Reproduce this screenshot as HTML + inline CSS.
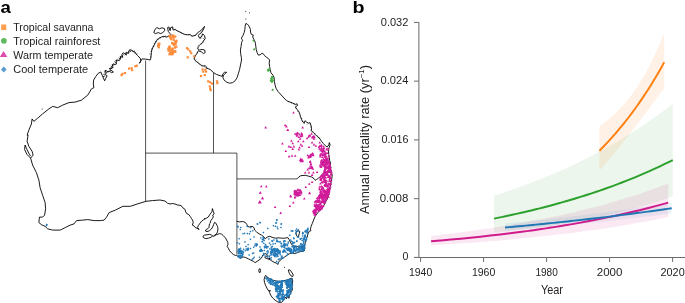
<!DOCTYPE html>
<html><head><meta charset="utf-8"><title>Figure</title>
<style>html,body{margin:0;padding:0;background:#fff}svg{display:block}</style></head>
<body>
<svg width="685" height="303" viewBox="0 0 685 303">
<rect width="685" height="303" fill="#fff"/>
<g>
<path d="M494.00 195.63 C495.24 195.23 498.97 194.05 501.45 193.24 C503.93 192.43 506.42 191.60 508.90 190.76 C511.38 189.92 513.87 189.06 516.35 188.19 C518.83 187.31 521.32 186.42 523.80 185.52 C526.28 184.61 528.77 183.68 531.25 182.74 C533.73 181.79 536.22 180.83 538.70 179.85 C541.18 178.87 543.67 177.87 546.15 176.85 C548.63 175.84 551.12 174.80 553.60 173.74 C556.08 172.68 558.57 171.60 561.05 170.50 C563.53 169.40 566.02 168.29 568.50 167.14 C570.98 166.00 573.47 164.84 575.95 163.65 C578.43 162.47 580.92 161.26 583.40 160.02 C585.88 158.79 588.37 157.54 590.85 156.26 C593.33 154.98 595.82 153.67 598.30 152.34 C600.78 151.01 603.27 149.66 605.75 148.27 C608.23 146.89 610.72 145.49 613.20 144.05 C615.68 142.61 618.17 141.15 620.65 139.66 C623.13 138.17 625.62 136.65 628.10 135.10 C630.58 133.55 633.07 131.97 635.55 130.36 C638.03 128.76 640.52 127.12 643.00 125.44 C645.48 123.77 647.97 122.07 650.45 120.33 C652.93 118.59 655.42 116.83 657.90 115.02 C660.38 113.22 662.87 111.38 665.35 109.50 C667.83 107.63 671.56 104.73 672.80 103.77 L672.80 196.29 C671.56 196.73 667.83 198.07 665.35 198.92 C662.87 199.77 660.38 200.60 657.90 201.40 C655.42 202.21 652.93 202.99 650.45 203.75 C647.97 204.51 645.48 205.25 643.00 205.97 C640.52 206.69 638.03 207.39 635.55 208.07 C633.07 208.75 630.58 209.42 628.10 210.06 C625.62 210.71 623.13 211.33 620.65 211.95 C618.17 212.56 615.68 213.15 613.20 213.73 C610.72 214.31 608.23 214.87 605.75 215.42 C603.27 215.97 600.78 216.50 598.30 217.02 C595.82 217.55 593.33 218.05 590.85 218.54 C588.37 219.04 585.88 219.52 583.40 219.99 C580.92 220.46 578.43 220.91 575.95 221.36 C573.47 221.80 570.98 222.23 568.50 222.66 C566.02 223.08 563.53 223.49 561.05 223.89 C558.57 224.29 556.08 224.68 553.60 225.06 C551.12 225.44 548.63 225.81 546.15 226.18 C543.67 226.54 541.18 226.89 538.70 227.24 C536.22 227.58 533.73 227.92 531.25 228.24 C528.77 228.57 526.28 228.89 523.80 229.20 C521.32 229.51 518.83 229.81 516.35 230.11 C513.87 230.41 511.38 230.70 508.90 230.98 C506.42 231.26 503.93 231.54 501.45 231.80 C498.97 232.07 495.24 232.46 494.00 232.59 Z" fill="#2ca02c" fill-opacity="0.09"/>
<path d="M599.40 126.42 C599.85 126.10 601.20 125.18 602.10 124.53 C603.00 123.88 603.90 123.21 604.80 122.51 C605.70 121.82 606.60 121.11 607.50 120.37 C608.40 119.64 609.30 118.88 610.20 118.10 C611.10 117.32 612.00 116.52 612.90 115.69 C613.80 114.86 614.70 114.01 615.60 113.13 C616.50 112.26 617.40 111.35 618.30 110.43 C619.20 109.50 620.10 108.55 621.00 107.56 C621.90 106.58 622.80 105.57 623.70 104.54 C624.60 103.50 625.50 102.43 626.40 101.34 C627.30 100.24 628.20 99.12 629.10 97.96 C630.00 96.80 630.90 95.62 631.80 94.39 C632.70 93.17 633.60 91.92 634.50 90.63 C635.40 89.34 636.30 88.02 637.20 86.66 C638.10 85.29 639.00 83.90 639.90 82.46 C640.80 81.03 641.70 79.56 642.60 78.04 C643.50 76.53 644.40 74.98 645.30 73.38 C646.20 71.78 647.10 70.14 648.00 68.46 C648.90 66.77 649.80 65.05 650.70 63.27 C651.60 61.49 652.50 59.67 653.40 57.80 C654.30 55.92 655.20 54.00 656.10 52.03 C657.00 50.05 657.90 48.02 658.80 45.94 C659.70 43.85 660.60 41.71 661.50 39.51 C662.40 37.31 663.75 33.86 664.20 32.73 L664.20 88.28 C663.75 88.88 662.40 90.65 661.50 91.84 C660.60 93.03 659.70 94.22 658.80 95.41 C657.90 96.61 657.00 97.80 656.10 99.00 C655.20 100.20 654.30 101.40 653.40 102.59 C652.50 103.79 651.60 104.99 650.70 106.19 C649.80 107.39 648.90 108.59 648.00 109.79 C647.10 110.99 646.20 112.19 645.30 113.38 C644.40 114.58 643.50 115.78 642.60 116.97 C641.70 118.16 640.80 119.36 639.90 120.54 C639.00 121.73 638.10 122.92 637.20 124.10 C636.30 125.29 635.40 126.47 634.50 127.64 C633.60 128.82 632.70 129.99 631.80 131.16 C630.90 132.33 630.00 133.49 629.10 134.65 C628.20 135.81 627.30 136.96 626.40 138.11 C625.50 139.26 624.60 140.40 623.70 141.54 C622.80 142.67 621.90 143.81 621.00 144.93 C620.10 146.06 619.20 147.17 618.30 148.29 C617.40 149.40 616.50 150.50 615.60 151.60 C614.70 152.70 613.80 153.79 612.90 154.87 C612.00 155.96 611.10 157.03 610.20 158.10 C609.30 159.17 608.40 160.23 607.50 161.28 C606.60 162.33 605.70 163.37 604.80 164.41 C603.90 165.44 603.00 166.47 602.10 167.49 C601.20 168.50 599.85 170.01 599.40 170.51 Z" fill="#ff7f0e" fill-opacity="0.11"/>
<path d="M431.10 235.85 C432.75 235.66 437.69 235.11 440.98 234.72 C444.27 234.34 447.57 233.94 450.86 233.54 C454.15 233.13 457.44 232.72 460.74 232.29 C464.03 231.86 467.32 231.43 470.62 230.97 C473.91 230.52 477.20 230.06 480.50 229.59 C483.79 229.12 487.08 228.63 490.38 228.13 C493.67 227.63 496.96 227.12 500.25 226.59 C503.55 226.07 506.84 225.53 510.13 224.97 C513.43 224.42 516.72 223.85 520.01 223.27 C523.31 222.69 526.60 222.09 529.89 221.47 C533.18 220.86 536.48 220.23 539.77 219.58 C543.06 218.94 546.36 218.27 549.65 217.59 C552.94 216.91 556.24 216.21 559.53 215.49 C562.82 214.78 566.12 214.04 569.41 213.28 C572.70 212.53 575.99 211.75 579.29 210.96 C582.58 210.16 585.87 209.34 589.17 208.51 C592.46 207.67 595.75 206.81 599.05 205.92 C602.34 205.04 605.63 204.14 608.93 203.20 C612.22 202.27 615.51 201.32 618.80 200.34 C622.10 199.36 625.39 198.36 628.68 197.33 C631.98 196.29 635.27 195.24 638.56 194.15 C641.86 193.06 645.15 191.95 648.44 190.80 C651.73 189.66 655.03 188.48 658.32 187.28 C661.61 186.07 666.55 184.19 668.20 183.57 L668.20 217.02 C666.55 217.36 661.61 218.38 658.32 219.04 C655.03 219.69 651.73 220.33 648.44 220.95 C645.15 221.57 641.86 222.18 638.56 222.77 C635.27 223.36 631.98 223.93 628.68 224.49 C625.39 225.05 622.10 225.60 618.80 226.13 C615.51 226.66 612.22 227.18 608.93 227.69 C605.63 228.19 602.34 228.69 599.05 229.17 C595.75 229.65 592.46 230.11 589.17 230.57 C585.87 231.03 582.58 231.47 579.29 231.90 C575.99 232.34 572.70 232.76 569.41 233.17 C566.12 233.58 562.82 233.98 559.53 234.37 C556.24 234.76 552.94 235.14 549.65 235.51 C546.36 235.88 543.06 236.24 539.77 236.59 C536.48 236.95 533.18 237.29 529.89 237.62 C526.60 237.96 523.31 238.28 520.01 238.60 C516.72 238.92 513.43 239.23 510.13 239.53 C506.84 239.83 503.55 240.12 500.25 240.41 C496.96 240.70 493.67 240.97 490.38 241.25 C487.08 241.52 483.79 241.78 480.50 242.04 C477.20 242.30 473.91 242.55 470.62 242.79 C467.32 243.04 464.03 243.28 460.74 243.51 C457.44 243.74 454.15 243.97 450.86 244.19 C447.57 244.41 444.27 244.63 440.98 244.84 C437.69 245.05 432.75 245.35 431.10 245.45 Z" fill="#d01c8b" fill-opacity="0.10"/>
<path d="M505.00 223.50 C506.16 223.39 509.63 223.05 511.95 222.82 C514.26 222.59 516.58 222.36 518.89 222.13 C521.21 221.90 523.52 221.66 525.84 221.42 C528.15 221.19 530.47 220.95 532.78 220.70 C535.10 220.46 537.41 220.22 539.73 219.97 C542.04 219.72 544.36 219.47 546.67 219.22 C548.99 218.97 551.31 218.71 553.62 218.45 C555.94 218.20 558.25 217.94 560.57 217.67 C562.88 217.41 565.20 217.14 567.51 216.88 C569.83 216.61 572.14 216.34 574.46 216.06 C576.77 215.79 579.09 215.51 581.40 215.23 C583.72 214.95 586.03 214.67 588.35 214.39 C590.67 214.10 592.98 213.82 595.30 213.53 C597.61 213.23 599.93 212.94 602.24 212.64 C604.56 212.35 606.87 212.05 609.19 211.75 C611.50 211.44 613.82 211.14 616.13 210.83 C618.45 210.52 620.76 210.21 623.08 209.89 C625.39 209.58 627.71 209.26 630.03 208.94 C632.34 208.62 634.66 208.29 636.97 207.97 C639.29 207.64 641.60 207.31 643.92 206.97 C646.23 206.64 648.55 206.30 650.86 205.96 C653.18 205.62 655.49 205.27 657.81 204.93 C660.12 204.58 662.44 204.23 664.75 203.87 C667.07 203.52 670.54 202.97 671.70 202.80 L671.70 213.20 C670.54 213.36 667.07 213.82 664.75 214.13 C662.44 214.43 660.12 214.73 657.81 215.03 C655.49 215.32 653.18 215.62 650.86 215.91 C648.55 216.20 646.23 216.49 643.92 216.77 C641.60 217.06 639.29 217.34 636.97 217.62 C634.66 217.90 632.34 218.17 630.03 218.45 C627.71 218.72 625.39 218.99 623.08 219.26 C620.76 219.52 618.45 219.79 616.13 220.05 C613.82 220.31 611.50 220.57 609.19 220.83 C606.87 221.08 604.56 221.34 602.24 221.59 C599.93 221.84 597.61 222.09 595.30 222.33 C592.98 222.58 590.67 222.82 588.35 223.06 C586.03 223.30 583.72 223.54 581.40 223.77 C579.09 224.01 576.77 224.24 574.46 224.47 C572.14 224.70 569.83 224.93 567.51 225.16 C565.20 225.38 562.88 225.61 560.57 225.83 C558.25 226.05 555.94 226.27 553.62 226.48 C551.31 226.70 548.99 226.91 546.67 227.12 C544.36 227.33 542.04 227.54 539.73 227.75 C537.41 227.96 535.10 228.16 532.78 228.37 C530.47 228.57 528.15 228.77 525.84 228.97 C523.52 229.17 521.21 229.36 518.89 229.56 C516.58 229.75 514.26 229.94 511.95 230.13 C509.63 230.32 506.16 230.61 505.00 230.70 Z" fill="#1f77b4" fill-opacity="0.08"/>
<path d="M599.40 150.73 C599.85 150.28 601.20 148.93 602.10 148.01 C603.00 147.10 603.90 146.17 604.80 145.23 C605.70 144.29 606.60 143.34 607.50 142.38 C608.40 141.41 609.30 140.44 610.20 139.45 C611.10 138.46 612.00 137.46 612.90 136.45 C613.80 135.43 614.70 134.41 615.60 133.37 C616.50 132.33 617.40 131.28 618.30 130.21 C619.20 129.14 620.10 128.07 621.00 126.97 C621.90 125.88 622.80 124.77 623.70 123.65 C624.60 122.53 625.50 121.40 626.40 120.25 C627.30 119.10 628.20 117.93 629.10 116.75 C630.00 115.57 630.90 114.38 631.80 113.17 C632.70 111.96 633.60 110.74 634.50 109.50 C635.40 108.26 636.30 107.00 637.20 105.73 C638.10 104.46 639.00 103.17 639.90 101.87 C640.80 100.56 641.70 99.24 642.60 97.91 C643.50 96.57 644.40 95.22 645.30 93.84 C646.20 92.47 647.10 91.08 648.00 89.68 C648.90 88.27 649.80 86.85 650.70 85.40 C651.60 83.96 652.50 82.50 653.40 81.02 C654.30 79.54 655.20 78.04 656.10 76.53 C657.00 75.01 657.90 73.47 658.80 71.92 C659.70 70.36 660.60 68.79 661.50 67.19 C662.40 65.60 663.75 63.15 664.20 62.34" fill="none" stroke="#ff7f0e" stroke-width="1.95"/>
<path d="M494.00 218.60 C495.24 218.35 498.97 217.61 501.45 217.09 C503.93 216.58 506.42 216.06 508.90 215.52 C511.38 214.99 513.87 214.44 516.35 213.89 C518.83 213.34 521.32 212.77 523.80 212.19 C526.28 211.62 528.77 211.03 531.25 210.43 C533.73 209.83 536.22 209.22 538.70 208.60 C541.18 207.98 543.67 207.34 546.15 206.70 C548.63 206.05 551.12 205.39 553.60 204.72 C556.08 204.04 558.57 203.36 561.05 202.66 C563.53 201.96 566.02 201.25 568.50 200.52 C570.98 199.80 573.47 199.06 575.95 198.30 C578.43 197.55 580.92 196.78 583.40 195.99 C585.88 195.21 588.37 194.41 590.85 193.59 C593.33 192.78 595.82 191.95 598.30 191.10 C600.78 190.25 603.27 189.39 605.75 188.51 C608.23 187.62 610.72 186.73 613.20 185.81 C615.68 184.90 618.17 183.96 620.65 183.01 C623.13 182.06 625.62 181.09 628.10 180.10 C630.58 179.11 633.07 178.10 635.55 177.08 C638.03 176.05 640.52 175.00 643.00 173.93 C645.48 172.86 647.97 171.77 650.45 170.66 C652.93 169.55 655.42 168.42 657.90 167.27 C660.38 166.11 662.87 164.94 665.35 163.74 C667.83 162.54 671.56 160.68 672.80 160.07" fill="none" stroke="#2ca02c" stroke-width="1.95"/>
<path d="M431.10 241.30 C432.75 241.16 437.69 240.75 440.98 240.47 C444.27 240.18 447.57 239.89 450.86 239.59 C454.15 239.29 457.44 238.98 460.74 238.66 C464.03 238.35 467.32 238.02 470.62 237.69 C473.91 237.35 477.20 237.01 480.50 236.66 C483.79 236.31 487.08 235.95 490.38 235.58 C493.67 235.21 496.96 234.83 500.25 234.44 C503.55 234.05 506.84 233.66 510.13 233.25 C513.43 232.84 516.72 232.42 520.01 231.98 C523.31 231.55 526.60 231.11 529.89 230.66 C533.18 230.20 536.48 229.73 539.77 229.26 C543.06 228.78 546.36 228.29 549.65 227.78 C552.94 227.28 556.24 226.76 559.53 226.23 C562.82 225.70 566.12 225.15 569.41 224.60 C572.70 224.04 575.99 223.46 579.29 222.87 C582.58 222.29 585.87 221.68 589.17 221.06 C592.46 220.44 595.75 219.81 599.05 219.15 C602.34 218.50 605.63 217.83 608.93 217.14 C612.22 216.45 615.51 215.75 618.80 215.02 C622.10 214.30 625.39 213.56 628.68 212.79 C631.98 212.03 635.27 211.25 638.56 210.45 C641.86 209.64 645.15 208.82 648.44 207.97 C651.73 207.13 655.03 206.26 658.32 205.37 C661.61 204.48 666.55 203.08 668.20 202.63" fill="none" stroke="#d01c8b" stroke-width="1.95"/>
<path d="M505.00 227.55 C506.16 227.45 509.63 227.13 511.95 226.92 C514.26 226.71 516.58 226.50 518.89 226.28 C521.21 226.07 523.52 225.85 525.84 225.63 C528.15 225.41 530.47 225.19 532.78 224.96 C535.10 224.74 537.41 224.51 539.73 224.28 C542.04 224.05 544.36 223.82 546.67 223.59 C548.99 223.35 551.31 223.12 553.62 222.88 C555.94 222.64 558.25 222.40 560.57 222.15 C562.88 221.91 565.20 221.66 567.51 221.41 C569.83 221.16 572.14 220.91 574.46 220.65 C576.77 220.40 579.09 220.14 581.40 219.88 C583.72 219.62 586.03 219.36 588.35 219.09 C590.67 218.83 592.98 218.56 595.30 218.29 C597.61 218.01 599.93 217.74 602.24 217.46 C604.56 217.19 606.87 216.91 609.19 216.62 C611.50 216.34 613.82 216.05 616.13 215.76 C618.45 215.47 620.76 215.18 623.08 214.89 C625.39 214.59 627.71 214.29 630.03 213.99 C632.34 213.69 634.66 213.38 636.97 213.08 C639.29 212.77 641.60 212.46 643.92 212.14 C646.23 211.83 648.55 211.51 650.86 211.19 C653.18 210.87 655.49 210.54 657.81 210.22 C660.12 209.89 662.44 209.56 664.75 209.22 C667.07 208.89 670.54 208.37 671.70 208.20" fill="none" stroke="#1f77b4" stroke-width="1.95"/>
</g>
<g stroke="#6a6a6a" stroke-width="1" fill="none">
<path d="M418.9 22.3 V258"/>
<path d="M418.4 257.5 H685"/>
<path d="M414 257.40 H418.9"/>
<path d="M414 198.65 H418.9"/>
<path d="M414 139.90 H418.9"/>
<path d="M414 81.15 H418.9"/>
<path d="M414 22.40 H418.9"/>
<path d="M420.60 257.5 V261.9"/>
<path d="M483.60 257.5 V261.9"/>
<path d="M546.60 257.5 V261.9"/>
<path d="M609.60 257.5 V261.9"/>
<path d="M672.60 257.5 V261.9"/>
</g>
<g font-family="'Liberation Sans', sans-serif" font-size="10.8" fill="#222">
<text x="402.50" y="259.95" textLength="5.9" lengthAdjust="spacingAndGlyphs">0</text>
<text x="379.70" y="201.80" textLength="28.7" lengthAdjust="spacingAndGlyphs">0.008</text>
<text x="381.40" y="143.05" textLength="27.0" lengthAdjust="spacingAndGlyphs">0.016</text>
<text x="380.60" y="84.30" textLength="27.8" lengthAdjust="spacingAndGlyphs">0.024</text>
<text x="380.80" y="25.55" textLength="27.6" lengthAdjust="spacingAndGlyphs">0.032</text>
<text x="409.00" y="275.7" textLength="23.2" lengthAdjust="spacingAndGlyphs">1940</text>
<text x="471.90" y="275.7" textLength="23.4" lengthAdjust="spacingAndGlyphs">1960</text>
<text x="535.40" y="275.7" textLength="22.4" lengthAdjust="spacingAndGlyphs">1980</text>
<text x="596.80" y="275.7" textLength="25.6" lengthAdjust="spacingAndGlyphs">2000</text>
<text x="660.50" y="275.7" textLength="24.2" lengthAdjust="spacingAndGlyphs">2020</text>
<text x="540.9" y="293.8" font-size="12.5" textLength="22" lengthAdjust="spacingAndGlyphs">Year</text>
<text transform="translate(368.9 214) rotate(-90)" font-size="12.5" textLength="149" lengthAdjust="spacingAndGlyphs">Annual mortality rate (yr<tspan font-size="7.8" dy="-4.8">−1</tspan><tspan dy="4.8">)</tspan></text>
</g>
<g font-family="'Liberation Sans', sans-serif" font-weight="bold" fill="#000">
<text transform="translate(0.4 12.55) scale(1.08 1)" font-size="17.2">a</text>
<text transform="translate(352.6 12.5) scale(1.2 1)" font-size="16.4">b</text>
</g>
<g font-family="'Liberation Sans', sans-serif" font-size="10.9" fill="#222">
<text x="13.3" y="30.60" textLength="80.2" lengthAdjust="spacingAndGlyphs">Tropical savanna</text>
<text x="13.3" y="44.67" textLength="87.1" lengthAdjust="spacingAndGlyphs">Tropical rainforest</text>
<text x="13.3" y="58.74" textLength="79.6" lengthAdjust="spacingAndGlyphs">Warm temperate</text>
<text x="13.3" y="72.81" textLength="74.8" lengthAdjust="spacingAndGlyphs">Cool temperate</text>
</g>
<rect x="1.2" y="24.5" width="5" height="5.6" fill="#fd9d4d"/>
<circle cx="3.9" cy="40.8" r="2.85" fill="#5fba5f"/>
<path d="M3.6 50.9 L7.3 57 L-0.1 57 Z" fill="#de4bb0"/>
<path d="M3.8 66.4 L6.6 69.4 L3.8 72.4 L1 69.4 Z" fill="#5a9bd1"/>
<g fill="none" stroke="#000" stroke-width="0.9" stroke-linejoin="round">
<path d="M28.1 135.0 L27.1 141.3 L28.8 146.3 L32.1 151.3 L33.1 155.1 L30.6 158.1 L32.6 165.1 L36.4 172.6 L38.9 180.2 L40.1 187.7 L42.6 195.2 L45.1 202.5 L45.6 208.8 L44.6 215.1 L42.6 217.1 L39.4 217.1 L38.9 222.6 L41.4 224.6 L45.1 226.4 L47.7 228.9 L52.7 230.1 L60.2 230.1 L65.2 227.6 L70.2 225.1 L74.0 223.9 L76.5 220.6 L82.8 220.1 L87.8 219.6 L94.1 220.6 L100.3 220.6 L104.1 220.1 L106.6 217.1 L109.1 212.6 L115.4 210.1 L122.9 206.3 L130.4 206.3 L137.9 203.8 L146.0 201.3 L152.4 200.6 L160.0 200.0 L165.0 201.0 L167.5 203.2 L170.0 204.0 L172.5 203.5 L175.0 204.0 L177.5 205.0 L180.0 205.3 L181.9 206.3 L183.2 208.2 L185.1 209.4 L185.7 211.9 L186.9 213.8 L188.8 214.5 L190.1 216.3 L191.3 218.2 L192.6 220.1 L193.2 222.6 L192.3 225.1 L193.9 225.8 L195.1 227.4 L197.0 228.3 L199.1 229.5 L197.6 227.4 L198.2 225.8 L199.5 223.9 L201.4 221.4 L203.9 219.5 L206.4 218.2 L208.3 217.0 L209.5 215.1 L210.8 213.2 L212.1 211.3 L212.4 208.6 L213.3 211.3 L214.2 213.8 L212.7 215.1 L213.3 217.0 L212.1 218.9 L210.8 220.7 L210.2 223.2 L209.5 223.8 L208.9 227.5 L207.7 228.8 L206.2 229.4 L205.4 231.0 L207.0 231.6 L209.5 230.7 L211.4 229.0 L212.7 226.9 L213.7 224.4 L214.6 222.3 L215.8 223.1 L217.5 226.3 L218.0 229.0 L217.5 231.9 L216.5 233.8 L214.6 235.3 L213.3 236.3 L214.6 235.7 L217.1 234.4 L219.6 233.6 L221.5 234.1 L223.4 235.7 L225.2 237.6 L226.7 240.1 L227.8 242.6 L228.0 244.5 L227.1 246.4 L228.4 248.2 L229.6 250.8 L231.5 252.9 L233.4 254.5 L235.3 255.4 L236.5 255.5 L238.3 256.9 L240.8 258.2 L243.3 256.9 L245.8 257.6 L248.3 258.8 L250.8 260.1 L253.3 261.3 L255.2 262.6 L257.1 261.3 L259.0 260.1 L260.9 258.6 L262.1 256.9 L262.8 255.1 L264.9 253.6 L266.5 254.1 L267.8 255.7 L265.9 256.3 L264.9 257.8 L267.2 258.6 L269.7 259.5 L271.5 260.7 L274.1 262.3 L276.6 263.2 L277.8 264.5 L278.7 262.0 L280.3 260.1 L282.2 258.6 L284.7 256.9 L287.2 255.1 L289.8 253.6 L292.3 253.2 L294.8 253.6 L297.3 252.6 L300.4 251.6 L302.9 251.0 L304.6 250.0 L303.6 251.4 L304.8 248.9 L304.6 246.4 L305.1 243.2 L306.1 240.1 L307.1 237.0 L308.0 233.8 L309.2 231.3 L310.8 230.7 L310.5 228.8 L311.1 226.3 L312.4 223.2 L313.6 220.0 L314.9 216.9 L315.9 215.1 L318.4 212.0 L321.5 208.8 L324.1 205.1 L326.6 200.0 L327.8 197.7 L328.8 193.9 L329.7 190.1 L330.3 186.4 L331.0 182.6 L331.8 178.8 L332.2 175.1 L331.3 171.9 L330.3 168.8 L331.0 167.7 L330.1 165.2 L330.6 162.6 L329.7 160.8 L329.3 157.6 L328.8 154.5 L328.4 150.7 L329.1 147.6 L330.1 144.8 L329.3 142.6 L328.8 145.1 L327.2 146.9 L325.3 145.7 L323.4 143.6 L321.5 141.3 L320.0 139.0 L319.0 137.7 L317.1 136.4 L315.3 134.5 L313.4 132.4 L311.2 130.8 L311.5 128.2 L310.9 125.1 L310.0 122.6 L308.4 123.2 L306.5 122.0 L305.0 120.7 L304.2 123.2 L302.7 122.0 L301.5 119.5 L300.4 116.3 L299.6 113.2 L298.3 110.7 L296.4 108.8 L295.4 106.9 L297.4 105.6 L297.1 103.8 L295.2 104.4 L292.7 103.1 L289.5 101.9 L286.4 100.6 L277.9 91.4 L276.0 88.2 L275.1 85.1 L274.4 81.3 L274.1 77.6 L272.9 75.1 L270.9 72.7 L270.2 69.5 L269.6 66.4 L269.2 63.2 L269.6 60.1 L268.4 58.6 L266.5 57.3 L264.6 55.7 L263.3 53.8 L262.1 53.2 L260.2 54.8 L258.3 55.1 L257.1 52.6 L256.2 49.4 L255.8 46.3 L255.4 43.2 L255.2 42.0 L253.9 39.5 L252.7 37.0 L253.3 35.1 L251.4 34.5 L250.5 32.0 L250.4 29.5 L249.5 27.0 L248.3 25.1 L247.0 23.8 L245.8 23.6 L245.1 26.3 L244.9 29.5 L244.1 32.6 L243.2 35.1 L242.0 37.0 L241.4 38.9 L242.9 40.2 L241.6 42.0 L241.6 42.5 L241.1 46.3 L240.4 50.1 L240.7 53.8 L241.4 57.6 L241.5 60.0 L240.5 65.0 L239.6 69.4 L238.3 73.8 L237.1 77.6 L235.2 80.7 L232.7 82.6 L229.5 83.2 L226.4 82.0 L223.9 79.8 L222.9 77.6 L223.6 75.1 L225.2 73.6 L226.7 72.3 L224.5 72.3 L222.9 73.8 L222.4 76.3 L220.1 75.7 L216.4 74.4 L213.5 72.6 L210.1 69.4 L205.9 67.9 L206.7 67.0 L205.2 65.7 L202.7 66.1 L200.2 64.5 L197.7 62.6 L195.2 60.7 L194.2 58.2 L195.4 55.7 L197.1 53.2 L198.3 50.7 L199.6 51.3 L201.5 51.9 L203.4 53.6 L205.2 52.6 L204.6 50.0 L202.1 49.4 L199.6 50.0 L197.7 48.8 L198.3 46.3 L200.2 44.4 L202.7 42.5 L204.0 40.0 L205.2 38.9 L204.6 35.7 L202.7 33.8 L201.5 37.0 L199.6 38.2 L198.3 35.7 L199.6 33.8 L201.5 32.6 L202.7 30.7 L204.0 28.2 L204.6 26.3 L203.4 27.6 L201.5 30.1 L199.6 31.3 L197.7 32.6 L195.8 35.1 L193.9 35.7 L192.1 36.3 L190.2 34.5 L187.7 34.8 L184.5 34.5 L182.0 33.2 L179.5 31.9 L177.0 30.7 L175.1 29.4 L173.2 30.1 L172.6 26.9 L170.7 27.6 L170.1 30.7 L168.8 26.9 L167.6 27.6 L168.2 31.3 L170.1 33.8 L171.3 35.1 L168.8 36.3 L166.3 37.0 L163.8 36.3 L161.3 37.0 L159.4 38.2 L157.5 39.5 L155.6 42.0 L154.4 44.5 L153.1 47.0 L151.9 49.5 L151.3 52.7 L150.8 58.2 L150.2 60.1 L148.3 59.5 L145.2 59.1 L142.1 58.9 L139.5 63.3 L140.8 60.8 L140.2 58.2 L137.7 55.7 L135.2 52.6 L132.6 50.7 L132.2 50.6 L130.7 49.7 L129.0 50.4 L128.7 53.3 L125.9 52.6 L126.4 55.1 L123.2 52.7 L122.0 54.4 L122.8 57.3 L120.5 56.4 L120.4 59.0 L119.4 60.5 L116.1 60.0 L116.4 64.1 L114.1 64.7 L112.2 64.8 L113.1 67.5 L109.2 68.6 L110.8 70.1 L113.4 72.0 L111.5 72.6 L109.6 71.3 L107.7 72.0 L105.8 70.1 L104.6 71.3 L106.5 72.6 L105.2 74.5 L107.1 75.7 L105.8 78.2 L104.6 80.8 L102.7 76.4 L100.8 72.0 L98.3 73.2 L95.8 76.4 L93.6 80.1 L93.3 83.9 L93.9 87.7 L91.5 88.8 L87.8 95.1 L81.5 100.1 L75.2 102.1 L69.0 102.6 L62.7 105.1 L57.7 107.7 L52.7 106.4 L48.9 108.9 L42.6 113.9 L37.6 118.2 L33.9 121.4 L32.1 118.9 L31.4 124.0 L28.8 130.2 L27.1 135.2Z"/>
<path d="M30.6 158.1 L27.1 154.6 L24.6 149.6 L25.1 145.0 L26.6 148.8 L29.1 153.8 L30.6 156.1"/>
<path stroke-width="0.75" d="M137.1 53.7L136.2 54.7M136.1 52.2L134.7 53.4M133.1 52.0L135.0 50.8M132.4 51.7L132.2 50.4M130.6 52.0L130.1 50.3M128.8 51.3L128.5 52.7M126.8 51.9L127.0 53.6M124.8 53.5L125.9 54.0M124.1 55.3L123.5 54.4M123.0 56.6L121.4 55.4M121.6 57.8L119.8 56.4M119.1 57.6L119.7 59.4M117.7 59.4L118.5 60.2M117.3 61.3L115.9 60.8M115.9 63.1L114.5 61.5M114.3 64.1L113.3 63.1M112.3 64.3L113.0 66.0M111.0 65.8L112.1 67.6M110.1 68.1L112.3 68.8M110.5 69.6L110.9 71.0M109.3 72.0L108.9 70.6M106.9 72.2L108.1 71.3M105.9 72.4L105.4 70.2M105.4 72.8L104.2 73.0M103.3 74.2L105.1 75.3M104.6 76.5L102.5 76.6"/>
<path stroke-width="0.6" d="M170.2 28.4L169.9 27.9M172.5 28.6L172.7 27.7M175.2 29.2L174.2 29.8M177.0 30.4L176.8 30.9M179.2 31.4L179.1 32.2M180.9 32.9L181.9 32.8M183.5 34.0L184.1 33.4M186.3 34.7L186.0 34.1M188.6 34.9L188.5 35.3M190.8 35.3L191.1 36.3M193.0 35.4L193.8 36.2M195.4 35.6L196.1 34.6M198.0 33.9L197.7 33.5"/>
<path stroke-width="0.6" d="M168.6 36.0L168.6 35.2M165.4 35.8L166.3 36.7M162.6 36.8L163.8 37.1M160.5 37.8L160.7 38.4M158.0 38.8L158.2 39.8M156.7 41.4L155.9 41.3M154.6 43.4L155.2 44.1M152.9 46.5L154.3 46.0M152.1 48.5L152.5 48.9M152.1 51.5L151.2 51.3M150.9 53.9L151.9 54.4M150.7 57.0L151.4 56.9M150.7 57.0L150.0 56.7M150.0 54.3L149.4 54.0M151.0 51.6L150.6 51.6M151.7 48.4L152.2 49.7M153.4 46.3L152.7 46.7M154.7 44.2L153.8 43.7M155.4 41.3L156.2 42.0M157.3 39.8L157.3 38.7M159.8 37.5L159.1 37.4"/>
<path stroke-width="0.6" d="M203.0 28.6L203.8 29.0M201.7 31.6L202.6 31.1M201.3 34.2L200.7 33.5M200.4 36.3L199.8 36.8M200.2 37.9L201.0 38.9M203.7 39.0L203.1 38.2M205.1 39.7L204.2 39.5M202.9 41.3L203.1 42.5M201.0 44.0L201.7 44.2M199.5 46.3L199.1 45.7"/>
<path stroke-width="0.6" d="M196.9 52.8L197.1 53.5M195.1 55.9L196.2 55.3M194.7 57.9L193.8 58.2M195.7 60.4L196.4 59.7M197.5 62.0L198.5 62.1M199.4 64.0L200.4 64.2M202.8 65.3L201.7 65.9M205.3 66.9L204.1 66.9M207.4 67.8L207.0 68.6"/>
<path stroke-width="0.6" d="M289.5 101.7L288.4 101.8M291.8 103.4L291.3 102.2M294.0 104.4L294.2 103.4M295.8 106.0L295.4 106.0M295.9 108.3L296.9 109.0M298.1 111.3L297.2 111.0M299.2 113.5L298.8 113.7M300.5 115.7L300.1 116.5M301.0 118.2L302.4 118.8M303.4 121.3L302.6 120.7M304.2 123.4L304.8 123.1M307.0 124.4L307.4 123.7M309.8 125.0L310.0 124.6M310.9 127.3L311.2 126.4M311.8 129.3L310.9 130.0M313.0 131.5L312.4 132.3M315.4 133.7L314.1 133.9M316.5 136.0L317.2 135.3M318.7 137.0L319.1 138.2"/>
<path d="M153.8 32.6 L155.0 29.4 L156.9 27.6 L159.4 28.8 L161.9 27.8 L164.4 28.6 L164.8 30.7 L162.6 32.6 L160.7 33.6 L158.2 32.6 L155.6 33.6Z"/>
<path d="M202.9 236.3 L204.5 235.1 L207.0 234.8 L209.5 234.4 L211.4 234.8 L212.7 236.1 L210.8 237.3 L208.3 238.2 L205.8 238.6 L203.6 237.8Z"/>
<path d="M265.7 275.3 L264.8 276.9 L264.1 279.4 L264.5 282.6 L265.7 285.7 L267.3 288.9 L269.1 291.4 L270.1 290.1 L269.6 292.6 L270.7 295.1 L272.6 297.9 L275.1 300.2 L277.9 302.0 L280.8 302.7 L282.7 301.4 L283.9 298.9 L285.4 297.0 L286.4 298.9 L287.7 296.4 L288.9 298.3 L289.6 295.1 L290.4 293.2 L289.9 290.7 L291.7 291.4 L292.5 288.9 L291.7 286.3 L292.5 283.2 L292.7 280.1 L292.1 278.2 L290.2 278.6 L287.7 279.8 L283.9 280.7 L280.2 281.3 L276.4 281.1 L272.6 280.1 L269.5 278.6 L267.0 276.9Z"/>
<path d="M259.1 269.0 L260.1 268.8 L260.6 270.6 L260.1 272.5 L259.1 272.3 L258.8 270.6Z"/>
<path d="M288.3 270.0 L289.9 269.8 L291.5 271.9 L293.3 275.0 L292.7 276.6 L290.8 275.7 L289.2 273.2Z"/>
<circle cx="245.8" cy="11.3" r="0.5" fill="#000" stroke="none"/>
<circle cx="249.5" cy="12.8" r="0.5" fill="#000" stroke="none"/>
<circle cx="245.8" cy="19.1" r="0.5" fill="#000" stroke="none"/>
<circle cx="42.1" cy="108.9" r="0.5" fill="#000" stroke="none"/>
<circle cx="204.6" cy="218.5" r="0.5" fill="#000" stroke="none"/>
<circle cx="284.5" cy="267.3" r="0.5" fill="#000" stroke="none"/>
<circle cx="269.4" cy="258.5" r="1" fill="#000" stroke="none"/>
<path stroke-width="0.75" stroke="#1a1a1a" d="M145.6 60.5 L145.6 201.3"/>
<path stroke-width="0.75" stroke="#1a1a1a" d="M213.5 72.8 L213.5 153.1"/>
<path stroke-width="0.75" stroke="#1a1a1a" d="M145.6 153.1 L236.9 153.1"/>
<path stroke-width="0.75" stroke="#1a1a1a" d="M236.9 153.1 L236.9 254.8"/>
<path stroke-width="0.75" stroke="#1a1a1a" d="M236.9 178.9 L297.1 178.9"/>
<path d="M297.1 178.8 L298.9 176.9 L300.8 175.7 L305.2 175.3 L308.4 176.1 L311.5 176.9 L314.0 178.6 L315.3 180.3 L316.5 179.5 L318.4 178.2 L320.3 176.9 L322.2 174.4 L324.1 173.2 L327.2 172.6 L331.0 171.9"/>
<path d="M236.8 221.3 L239.5 221.9 L242.7 221.5 L245.2 222.3 L246.8 224.4 L247.7 226.6 L249.6 226.9 L252.1 226.3 L254.0 227.6 L254.6 230.1 L256.5 231.9 L259.0 233.8 L261.5 235.1 L264.0 237.0 L265.3 238.9 L267.2 237.0 L269.7 236.3 L272.2 237.3 L275.3 238.2 L278.5 237.8 L281.6 238.2 L284.7 238.2 L287.9 237.6 L289.1 239.5 L290.4 242.0 L291.6 244.5 L293.5 245.8 L296.0 246.4 L299.2 247.0 L302.3 247.4 L304.2 248.3"/>
<path d="M296.0 231.9 L297.9 230.7 L299.8 231.3 L299.2 233.8 L298.3 237.0 L297.0 236.3 L296.0 233.8 L296.0 231.9"/>
</g>
<g fill="#fd8d3c"><rect x="120.4" y="74.0" width="2.2" height="2.2"/><rect x="121.4" y="72.8" width="2.2" height="2.2"/><rect x="123.9" y="71.9" width="2.2" height="2.2"/><rect x="128.0" y="67.5" width="2.2" height="2.2"/><rect x="130.5" y="67.1" width="2.2" height="2.2"/><rect x="131.1" y="69.0" width="2.2" height="2.2"/><rect x="134.2" y="65.2" width="2.2" height="2.2"/><rect x="135.7" y="64.6" width="2.2" height="2.2"/><rect x="157.5" y="42.9" width="2.2" height="2.2"/><rect x="158.2" y="42.5" width="2.2" height="2.2"/><rect x="158.0" y="44.0" width="2.2" height="2.2"/><rect x="157.0" y="44.6" width="2.2" height="2.2"/><rect x="157.0" y="44.3" width="2.2" height="2.2"/><rect x="157.7" y="46.2" width="2.2" height="2.2"/><rect x="168.9" y="35.1" width="2.2" height="2.2"/><rect x="172.6" y="38.7" width="2.2" height="2.2"/><rect x="172.2" y="36.0" width="2.2" height="2.2"/><rect x="174.2" y="35.4" width="2.2" height="2.2"/><rect x="169.0" y="34.6" width="2.2" height="2.2"/><rect x="170.2" y="38.1" width="2.2" height="2.2"/><rect x="169.3" y="36.9" width="2.2" height="2.2"/><rect x="172.6" y="35.9" width="2.2" height="2.2"/><rect x="172.0" y="34.3" width="2.2" height="2.2"/><rect x="168.4" y="35.0" width="2.2" height="2.2"/><rect x="172.9" y="36.1" width="2.2" height="2.2"/><rect x="170.3" y="36.9" width="2.2" height="2.2"/><rect x="171.3" y="35.5" width="2.2" height="2.2"/><rect x="174.4" y="43.0" width="2.2" height="2.2"/><rect x="171.5" y="42.3" width="2.2" height="2.2"/><rect x="173.0" y="44.0" width="2.2" height="2.2"/><rect x="174.1" y="40.6" width="2.2" height="2.2"/><rect x="175.4" y="39.7" width="2.2" height="2.2"/><rect x="172.4" y="43.3" width="2.2" height="2.2"/><rect x="171.0" y="41.8" width="2.2" height="2.2"/><rect x="174.3" y="42.2" width="2.2" height="2.2"/><rect x="174.9" y="40.8" width="2.2" height="2.2"/><rect x="173.9" y="42.4" width="2.2" height="2.2"/><rect x="172.0" y="47.5" width="2.2" height="2.2"/><rect x="174.2" y="50.6" width="2.2" height="2.2"/><rect x="171.1" y="48.8" width="2.2" height="2.2"/><rect x="167.6" y="49.1" width="2.2" height="2.2"/><rect x="172.5" y="50.9" width="2.2" height="2.2"/><rect x="174.0" y="46.4" width="2.2" height="2.2"/><rect x="170.3" y="48.9" width="2.2" height="2.2"/><rect x="167.3" y="47.6" width="2.2" height="2.2"/><rect x="168.5" y="45.4" width="2.2" height="2.2"/><rect x="167.6" y="49.5" width="2.2" height="2.2"/><rect x="168.2" y="46.2" width="2.2" height="2.2"/><rect x="170.4" y="50.1" width="2.2" height="2.2"/><rect x="167.8" y="47.5" width="2.2" height="2.2"/><rect x="171.7" y="50.2" width="2.2" height="2.2"/><rect x="174.0" y="50.1" width="2.2" height="2.2"/><rect x="169.4" y="47.3" width="2.2" height="2.2"/><rect x="170.1" y="50.2" width="2.2" height="2.2"/><rect x="175.2" y="45.6" width="2.2" height="2.2"/><rect x="168.9" y="51.8" width="2.2" height="2.2"/><rect x="169.3" y="52.7" width="2.2" height="2.2"/><rect x="171.8" y="51.9" width="2.2" height="2.2"/><rect x="170.3" y="53.0" width="2.2" height="2.2"/><rect x="171.3" y="53.2" width="2.2" height="2.2"/><rect x="172.4" y="51.1" width="2.2" height="2.2"/><rect x="170.4" y="52.4" width="2.2" height="2.2"/><rect x="168.4" y="53.2" width="2.2" height="2.2"/><rect x="185.9" y="47.1" width="2.2" height="2.2"/><rect x="187.2" y="48.3" width="2.2" height="2.2"/><rect x="189.1" y="50.2" width="2.2" height="2.2"/><rect x="190.1" y="52.1" width="2.2" height="2.2"/><rect x="186.6" y="56.2" width="2.2" height="2.2"/><rect x="193.1" y="55.2" width="2.2" height="2.2"/><rect x="201.5" y="68.3" width="2.2" height="2.2"/><rect x="202.1" y="70.5" width="2.2" height="2.2"/><rect x="204.2" y="68.7" width="2.2" height="2.2"/><rect x="205.0" y="70.5" width="2.2" height="2.2"/><rect x="203.7" y="74.0" width="2.2" height="2.2"/><rect x="199.9" y="75.0" width="2.2" height="2.2"/><rect x="207.1" y="80.2" width="2.2" height="2.2"/><rect x="209.0" y="81.2" width="2.2" height="2.2"/><rect x="210.9" y="82.5" width="2.2" height="2.2"/><rect x="208.7" y="85.3" width="2.2" height="2.2"/><rect x="209.0" y="87.5" width="2.2" height="2.2"/><rect x="209.6" y="89.0" width="2.2" height="2.2"/><rect x="215.9" y="80.2" width="2.2" height="2.2"/><rect x="216.3" y="82.1" width="2.2" height="2.2"/></g>
<g fill="#4daf4a"><circle cx="253.4" cy="40.6" r="1.05"/><circle cx="254.2" cy="49.4" r="1.05"/><circle cx="268.3" cy="69.9" r="1.05"/><circle cx="268.7" cy="69.6" r="1.05"/><circle cx="268.0" cy="70.6" r="1.05"/><circle cx="269.4" cy="69.9" r="1.05"/><circle cx="268.4" cy="70.5" r="1.05"/><circle cx="268.7" cy="69.8" r="1.05"/><circle cx="271.8" cy="79.4" r="1.05"/><circle cx="271.4" cy="78.3" r="1.05"/><circle cx="273.0" cy="77.7" r="1.05"/><circle cx="272.0" cy="77.7" r="1.05"/><circle cx="272.0" cy="77.0" r="1.05"/><circle cx="272.0" cy="82.0" r="1.05"/><circle cx="273.1" cy="80.5" r="1.05"/><circle cx="271.1" cy="78.8" r="1.05"/><circle cx="270.8" cy="80.9" r="1.05"/><circle cx="272.0" cy="81.0" r="1.05"/><circle cx="272.6" cy="89.9" r="1.05"/></g>
<g fill="#2279b8"><path d="M46.6 224.0l1 1l-1 1l-1-1z"/><path d="M46.9 223.6l1 1l-1 1l-1-1z"/><path d="M46.4 224.4l1 1l-1 1l-1-1z"/><path d="M275.5 282.2l1 1l-1 1l-1-1z"/><path d="M282.7 280.2l1 1l-1 1l-1-1z"/><path d="M276.1 283.5l1 1l-1 1l-1-1z"/><path d="M291.2 283.5l1 1l-1 1l-1-1z"/><path d="M274.7 281.9l1 1l-1 1l-1-1z"/><path d="M292.1 283.9l1 1l-1 1l-1-1z"/><path d="M277.3 284.4l1 1l-1 1l-1-1z"/><path d="M275.9 282.6l1 1l-1 1l-1-1z"/><path d="M282.0 284.4l1 1l-1 1l-1-1z"/><path d="M287.5 279.0l1 1l-1 1l-1-1z"/><path d="M277.1 281.7l1 1l-1 1l-1-1z"/><path d="M287.7 284.4l1 1l-1 1l-1-1z"/><path d="M287.6 284.2l1 1l-1 1l-1-1z"/><path d="M288.7 283.6l1 1l-1 1l-1-1z"/><path d="M280.7 283.6l1 1l-1 1l-1-1z"/><path d="M271.1 283.1l1 1l-1 1l-1-1z"/><path d="M290.9 278.6l1 1l-1 1l-1-1z"/><path d="M282.1 282.5l1 1l-1 1l-1-1z"/><path d="M272.6 283.2l1 1l-1 1l-1-1z"/><path d="M287.1 280.6l1 1l-1 1l-1-1z"/><path d="M281.4 284.4l1 1l-1 1l-1-1z"/><path d="M289.6 281.1l1 1l-1 1l-1-1z"/><path d="M278.6 281.7l1 1l-1 1l-1-1z"/><path d="M270.8 278.2l1 1l-1 1l-1-1z"/><path d="M270.6 282.7l1 1l-1 1l-1-1z"/><path d="M275.5 281.5l1 1l-1 1l-1-1z"/><path d="M276.6 281.1l1 1l-1 1l-1-1z"/><path d="M289.1 280.8l1 1l-1 1l-1-1z"/><path d="M286.7 280.3l1 1l-1 1l-1-1z"/><path d="M291.3 283.3l1 1l-1 1l-1-1z"/><path d="M271.1 278.1l1 1l-1 1l-1-1z"/><path d="M280.8 284.2l1 1l-1 1l-1-1z"/><path d="M278.1 284.9l1 1l-1 1l-1-1z"/><path d="M281.9 280.0l1 1l-1 1l-1-1z"/><path d="M272.7 281.5l1 1l-1 1l-1-1z"/><path d="M283.8 280.0l1 1l-1 1l-1-1z"/><path d="M272.6 279.6l1 1l-1 1l-1-1z"/><path d="M290.1 284.5l1 1l-1 1l-1-1z"/><path d="M286.9 282.8l1 1l-1 1l-1-1z"/><path d="M267.2 277.8l1 1l-1 1l-1-1z"/><path d="M281.7 283.2l1 1l-1 1l-1-1z"/><path d="M268.6 279.4l1 1l-1 1l-1-1z"/><path d="M289.1 284.4l1 1l-1 1l-1-1z"/><path d="M269.5 280.5l1 1l-1 1l-1-1z"/><path d="M288.5 282.1l1 1l-1 1l-1-1z"/><path d="M287.9 280.8l1 1l-1 1l-1-1z"/><path d="M285.0 281.4l1 1l-1 1l-1-1z"/><path d="M272.9 280.2l1 1l-1 1l-1-1z"/><path d="M269.9 278.9l1 1l-1 1l-1-1z"/><path d="M288.4 279.5l1 1l-1 1l-1-1z"/><path d="M270.2 280.9l1 1l-1 1l-1-1z"/><path d="M274.3 284.5l1 1l-1 1l-1-1z"/><path d="M275.5 285.3l1 1l-1 1l-1-1z"/><path d="M268.3 279.1l1 1l-1 1l-1-1z"/><path d="M287.5 279.6l1 1l-1 1l-1-1z"/><path d="M288.2 281.2l1 1l-1 1l-1-1z"/><path d="M270.7 280.4l1 1l-1 1l-1-1z"/><path d="M290.3 278.5l1 1l-1 1l-1-1z"/><path d="M270.6 283.3l1 1l-1 1l-1-1z"/><path d="M267.9 277.3l1 1l-1 1l-1-1z"/><path d="M282.1 280.9l1 1l-1 1l-1-1z"/><path d="M282.2 282.8l1 1l-1 1l-1-1z"/><path d="M287.6 281.7l1 1l-1 1l-1-1z"/><path d="M285.5 280.1l1 1l-1 1l-1-1z"/><path d="M287.6 279.5l1 1l-1 1l-1-1z"/><path d="M288.4 284.2l1 1l-1 1l-1-1z"/><path d="M290.3 280.7l1 1l-1 1l-1-1z"/><path d="M289.3 278.9l1 1l-1 1l-1-1z"/><path d="M275.7 281.8l1 1l-1 1l-1-1z"/><path d="M277.7 281.1l1 1l-1 1l-1-1z"/><path d="M287.8 284.2l1 1l-1 1l-1-1z"/><path d="M274.4 282.8l1 1l-1 1l-1-1z"/><path d="M276.0 283.2l1 1l-1 1l-1-1z"/><path d="M291.5 280.9l1 1l-1 1l-1-1z"/><path d="M279.6 281.2l1 1l-1 1l-1-1z"/><path d="M291.8 278.5l1 1l-1 1l-1-1z"/><path d="M272.5 283.7l1 1l-1 1l-1-1z"/><path d="M266.5 277.4l1 1l-1 1l-1-1z"/><path d="M281.3 281.2l1 1l-1 1l-1-1z"/><path d="M289.2 282.9l1 1l-1 1l-1-1z"/><path d="M266.9 277.6l1 1l-1 1l-1-1z"/><path d="M279.0 281.0l1 1l-1 1l-1-1z"/><path d="M281.7 284.1l1 1l-1 1l-1-1z"/><path d="M269.7 281.6l1 1l-1 1l-1-1z"/><path d="M276.2 280.3l1 1l-1 1l-1-1z"/><path d="M288.4 281.2l1 1l-1 1l-1-1z"/><path d="M276.4 284.8l1 1l-1 1l-1-1z"/><path d="M286.7 279.5l1 1l-1 1l-1-1z"/><path d="M272.2 279.5l1 1l-1 1l-1-1z"/><path d="M287.4 284.6l1 1l-1 1l-1-1z"/><path d="M287.7 284.0l1 1l-1 1l-1-1z"/><path d="M272.4 280.3l1 1l-1 1l-1-1z"/><path d="M282.8 279.8l1 1l-1 1l-1-1z"/><path d="M277.4 281.0l1 1l-1 1l-1-1z"/><path d="M266.3 277.8l1 1l-1 1l-1-1z"/><path d="M291.9 283.4l1 1l-1 1l-1-1z"/><path d="M291.0 282.1l1 1l-1 1l-1-1z"/><path d="M287.6 284.3l1 1l-1 1l-1-1z"/><path d="M280.4 284.7l1 1l-1 1l-1-1z"/><path d="M279.8 280.4l1 1l-1 1l-1-1z"/><path d="M291.4 279.1l1 1l-1 1l-1-1z"/><path d="M274.0 282.2l1 1l-1 1l-1-1z"/><path d="M269.0 281.8l1 1l-1 1l-1-1z"/><path d="M291.5 281.1l1 1l-1 1l-1-1z"/><path d="M273.0 280.7l1 1l-1 1l-1-1z"/><path d="M269.1 277.7l1 1l-1 1l-1-1z"/><path d="M273.6 280.1l1 1l-1 1l-1-1z"/><path d="M288.4 281.9l1 1l-1 1l-1-1z"/><path d="M281.1 282.3l1 1l-1 1l-1-1z"/><path d="M271.1 282.8l1 1l-1 1l-1-1z"/><path d="M278.2 281.4l1 1l-1 1l-1-1z"/><path d="M282.3 280.7l1 1l-1 1l-1-1z"/><path d="M271.7 281.1l1 1l-1 1l-1-1z"/><path d="M276.1 281.7l1 1l-1 1l-1-1z"/><path d="M289.0 278.7l1 1l-1 1l-1-1z"/><path d="M280.7 280.9l1 1l-1 1l-1-1z"/><path d="M273.7 283.3l1 1l-1 1l-1-1z"/><path d="M289.2 280.4l1 1l-1 1l-1-1z"/><path d="M267.4 280.0l1 1l-1 1l-1-1z"/><path d="M277.6 283.0l1 1l-1 1l-1-1z"/><path d="M268.7 278.5l1 1l-1 1l-1-1z"/><path d="M291.6 283.0l1 1l-1 1l-1-1z"/><path d="M269.9 279.5l1 1l-1 1l-1-1z"/><path d="M275.2 282.5l1 1l-1 1l-1-1z"/><path d="M282.4 284.0l1 1l-1 1l-1-1z"/><path d="M287.9 281.1l1 1l-1 1l-1-1z"/><path d="M285.7 283.1l1 1l-1 1l-1-1z"/><path d="M286.2 280.7l1 1l-1 1l-1-1z"/><path d="M286.9 282.8l1 1l-1 1l-1-1z"/><path d="M286.4 281.7l1 1l-1 1l-1-1z"/><path d="M281.2 280.2l1 1l-1 1l-1-1z"/><path d="M286.9 284.2l1 1l-1 1l-1-1z"/><path d="M282.1 279.9l1 1l-1 1l-1-1z"/><path d="M277.9 280.6l1 1l-1 1l-1-1z"/><path d="M276.3 281.4l1 1l-1 1l-1-1z"/><path d="M287.0 284.0l1 1l-1 1l-1-1z"/><path d="M279.2 280.5l1 1l-1 1l-1-1z"/><path d="M270.7 279.2l1 1l-1 1l-1-1z"/><path d="M269.6 281.6l1 1l-1 1l-1-1z"/><path d="M290.6 279.4l1 1l-1 1l-1-1z"/><path d="M288.5 283.9l1 1l-1 1l-1-1z"/><path d="M291.6 278.4l1 1l-1 1l-1-1z"/><path d="M277.2 284.6l1 1l-1 1l-1-1z"/><path d="M266.0 277.0l1 1l-1 1l-1-1z"/><path d="M281.0 280.9l1 1l-1 1l-1-1z"/><path d="M282.6 296.9l1 1l-1 1l-1-1z"/><path d="M279.4 292.7l1 1l-1 1l-1-1z"/><path d="M280.7 290.5l1 1l-1 1l-1-1z"/><path d="M278.1 293.9l1 1l-1 1l-1-1z"/><path d="M280.7 292.8l1 1l-1 1l-1-1z"/><path d="M275.9 290.3l1 1l-1 1l-1-1z"/><path d="M278.4 293.4l1 1l-1 1l-1-1z"/><path d="M279.8 298.7l1 1l-1 1l-1-1z"/><path d="M283.0 292.2l1 1l-1 1l-1-1z"/><path d="M278.7 294.4l1 1l-1 1l-1-1z"/><path d="M283.3 289.8l1 1l-1 1l-1-1z"/><path d="M279.5 297.6l1 1l-1 1l-1-1z"/><path d="M276.5 289.4l1 1l-1 1l-1-1z"/><path d="M279.3 285.9l1 1l-1 1l-1-1z"/><path d="M282.4 295.5l1 1l-1 1l-1-1z"/><path d="M282.4 291.1l1 1l-1 1l-1-1z"/><path d="M276.4 288.9l1 1l-1 1l-1-1z"/><path d="M279.3 292.5l1 1l-1 1l-1-1z"/><path d="M276.7 287.1l1 1l-1 1l-1-1z"/><path d="M280.3 294.1l1 1l-1 1l-1-1z"/><path d="M280.3 284.8l1 1l-1 1l-1-1z"/><path d="M278.5 297.1l1 1l-1 1l-1-1z"/><path d="M277.6 295.5l1 1l-1 1l-1-1z"/><path d="M282.0 293.8l1 1l-1 1l-1-1z"/><path d="M280.6 287.3l1 1l-1 1l-1-1z"/><path d="M279.2 293.3l1 1l-1 1l-1-1z"/><path d="M277.3 294.8l1 1l-1 1l-1-1z"/><path d="M279.5 300.6l1 1l-1 1l-1-1z"/><path d="M279.8 290.9l1 1l-1 1l-1-1z"/><path d="M276.1 286.7l1 1l-1 1l-1-1z"/><path d="M281.3 285.9l1 1l-1 1l-1-1z"/><path d="M275.9 286.9l1 1l-1 1l-1-1z"/><path d="M279.4 297.7l1 1l-1 1l-1-1z"/><path d="M280.1 297.5l1 1l-1 1l-1-1z"/><path d="M281.4 289.4l1 1l-1 1l-1-1z"/><path d="M281.0 290.0l1 1l-1 1l-1-1z"/><path d="M276.5 288.5l1 1l-1 1l-1-1z"/><path d="M279.9 289.9l1 1l-1 1l-1-1z"/><path d="M278.8 290.5l1 1l-1 1l-1-1z"/><path d="M279.9 300.0l1 1l-1 1l-1-1z"/><path d="M278.7 294.4l1 1l-1 1l-1-1z"/><path d="M277.2 284.8l1 1l-1 1l-1-1z"/><path d="M282.7 298.3l1 1l-1 1l-1-1z"/><path d="M281.8 289.1l1 1l-1 1l-1-1z"/><path d="M280.0 300.0l1 1l-1 1l-1-1z"/><path d="M279.2 299.8l1 1l-1 1l-1-1z"/><path d="M277.1 290.5l1 1l-1 1l-1-1z"/><path d="M281.0 287.8l1 1l-1 1l-1-1z"/><path d="M279.1 297.2l1 1l-1 1l-1-1z"/><path d="M277.1 287.0l1 1l-1 1l-1-1z"/><path d="M278.1 287.2l1 1l-1 1l-1-1z"/><path d="M283.1 288.9l1 1l-1 1l-1-1z"/><path d="M279.7 286.0l1 1l-1 1l-1-1z"/><path d="M279.5 290.5l1 1l-1 1l-1-1z"/><path d="M278.4 285.2l1 1l-1 1l-1-1z"/><path d="M278.0 288.1l1 1l-1 1l-1-1z"/><path d="M276.7 288.8l1 1l-1 1l-1-1z"/><path d="M277.1 284.7l1 1l-1 1l-1-1z"/><path d="M280.6 289.7l1 1l-1 1l-1-1z"/><path d="M276.4 295.8l1 1l-1 1l-1-1z"/><path d="M275.9 288.6l1 1l-1 1l-1-1z"/><path d="M281.9 286.2l1 1l-1 1l-1-1z"/><path d="M278.7 297.9l1 1l-1 1l-1-1z"/><path d="M281.7 286.7l1 1l-1 1l-1-1z"/><path d="M278.0 296.1l1 1l-1 1l-1-1z"/><path d="M279.3 287.9l1 1l-1 1l-1-1z"/><path d="M278.8 286.3l1 1l-1 1l-1-1z"/><path d="M280.9 288.4l1 1l-1 1l-1-1z"/><path d="M282.5 293.8l1 1l-1 1l-1-1z"/><path d="M278.1 288.2l1 1l-1 1l-1-1z"/><path d="M280.1 287.6l1 1l-1 1l-1-1z"/><path d="M282.3 286.1l1 1l-1 1l-1-1z"/><path d="M279.3 293.1l1 1l-1 1l-1-1z"/><path d="M277.3 296.9l1 1l-1 1l-1-1z"/><path d="M278.3 295.0l1 1l-1 1l-1-1z"/><path d="M279.8 289.2l1 1l-1 1l-1-1z"/><path d="M278.3 285.5l1 1l-1 1l-1-1z"/><path d="M277.8 295.1l1 1l-1 1l-1-1z"/><path d="M278.1 292.4l1 1l-1 1l-1-1z"/><path d="M277.6 285.2l1 1l-1 1l-1-1z"/><path d="M277.7 287.8l1 1l-1 1l-1-1z"/><path d="M277.4 290.8l1 1l-1 1l-1-1z"/><path d="M282.5 296.9l1 1l-1 1l-1-1z"/><path d="M282.3 298.4l1 1l-1 1l-1-1z"/><path d="M276.2 288.7l1 1l-1 1l-1-1z"/><path d="M280.5 289.9l1 1l-1 1l-1-1z"/><path d="M278.5 295.0l1 1l-1 1l-1-1z"/><path d="M280.8 288.2l1 1l-1 1l-1-1z"/><path d="M282.0 289.9l1 1l-1 1l-1-1z"/><path d="M280.3 287.1l1 1l-1 1l-1-1z"/><path d="M281.1 295.9l1 1l-1 1l-1-1z"/><path d="M275.5 284.8l1 1l-1 1l-1-1z"/><path d="M276.5 287.4l1 1l-1 1l-1-1z"/><path d="M277.6 290.4l1 1l-1 1l-1-1z"/><path d="M280.3 287.1l1 1l-1 1l-1-1z"/><path d="M282.0 293.5l1 1l-1 1l-1-1z"/><path d="M281.0 288.3l1 1l-1 1l-1-1z"/><path d="M278.7 295.4l1 1l-1 1l-1-1z"/><path d="M281.9 297.0l1 1l-1 1l-1-1z"/><path d="M277.5 284.8l1 1l-1 1l-1-1z"/><path d="M282.1 294.2l1 1l-1 1l-1-1z"/><path d="M275.5 288.1l1 1l-1 1l-1-1z"/><path d="M281.2 285.5l1 1l-1 1l-1-1z"/><path d="M280.8 290.6l1 1l-1 1l-1-1z"/><path d="M281.2 297.8l1 1l-1 1l-1-1z"/><path d="M277.4 285.6l1 1l-1 1l-1-1z"/><path d="M282.9 291.1l1 1l-1 1l-1-1z"/><path d="M282.7 295.5l1 1l-1 1l-1-1z"/><path d="M281.2 297.8l1 1l-1 1l-1-1z"/><path d="M280.3 291.6l1 1l-1 1l-1-1z"/><path d="M286.8 292.7l1 1l-1 1l-1-1z"/><path d="M289.1 290.0l1 1l-1 1l-1-1z"/><path d="M292.3 284.6l1 1l-1 1l-1-1z"/><path d="M291.2 283.4l1 1l-1 1l-1-1z"/><path d="M288.1 290.5l1 1l-1 1l-1-1z"/><path d="M289.8 286.3l1 1l-1 1l-1-1z"/><path d="M289.0 285.7l1 1l-1 1l-1-1z"/><path d="M288.4 284.8l1 1l-1 1l-1-1z"/><path d="M290.9 292.3l1 1l-1 1l-1-1z"/><path d="M287.9 286.2l1 1l-1 1l-1-1z"/><path d="M289.7 289.1l1 1l-1 1l-1-1z"/><path d="M288.3 295.3l1 1l-1 1l-1-1z"/><path d="M287.3 290.8l1 1l-1 1l-1-1z"/><path d="M288.5 294.3l1 1l-1 1l-1-1z"/><path d="M289.9 293.5l1 1l-1 1l-1-1z"/><path d="M287.5 292.2l1 1l-1 1l-1-1z"/><path d="M290.2 289.3l1 1l-1 1l-1-1z"/><path d="M287.1 286.9l1 1l-1 1l-1-1z"/><path d="M288.7 285.7l1 1l-1 1l-1-1z"/><path d="M286.8 286.8l1 1l-1 1l-1-1z"/><path d="M287.7 292.7l1 1l-1 1l-1-1z"/><path d="M289.2 284.4l1 1l-1 1l-1-1z"/><path d="M288.5 289.4l1 1l-1 1l-1-1z"/><path d="M288.7 285.2l1 1l-1 1l-1-1z"/><path d="M286.9 283.0l1 1l-1 1l-1-1z"/><path d="M287.0 292.9l1 1l-1 1l-1-1z"/><path d="M287.1 289.7l1 1l-1 1l-1-1z"/><path d="M289.2 285.5l1 1l-1 1l-1-1z"/><path d="M289.8 282.9l1 1l-1 1l-1-1z"/><path d="M290.5 286.4l1 1l-1 1l-1-1z"/><path d="M288.0 284.8l1 1l-1 1l-1-1z"/><path d="M286.6 293.7l1 1l-1 1l-1-1z"/><path d="M291.7 287.0l1 1l-1 1l-1-1z"/><path d="M287.6 291.8l1 1l-1 1l-1-1z"/><path d="M287.5 293.9l1 1l-1 1l-1-1z"/><path d="M288.5 285.4l1 1l-1 1l-1-1z"/><path d="M291.6 287.3l1 1l-1 1l-1-1z"/><path d="M288.7 290.6l1 1l-1 1l-1-1z"/><path d="M288.7 294.5l1 1l-1 1l-1-1z"/><path d="M287.9 283.4l1 1l-1 1l-1-1z"/><path d="M290.0 291.7l1 1l-1 1l-1-1z"/><path d="M289.5 289.9l1 1l-1 1l-1-1z"/><path d="M287.4 287.0l1 1l-1 1l-1-1z"/><path d="M290.1 284.0l1 1l-1 1l-1-1z"/><path d="M290.8 285.1l1 1l-1 1l-1-1z"/><path d="M287.0 283.4l1 1l-1 1l-1-1z"/><path d="M289.2 285.5l1 1l-1 1l-1-1z"/><path d="M291.0 282.9l1 1l-1 1l-1-1z"/><path d="M291.4 288.8l1 1l-1 1l-1-1z"/><path d="M288.2 292.1l1 1l-1 1l-1-1z"/><path d="M289.7 288.8l1 1l-1 1l-1-1z"/><path d="M288.6 289.0l1 1l-1 1l-1-1z"/><path d="M292.1 285.1l1 1l-1 1l-1-1z"/><path d="M288.3 289.1l1 1l-1 1l-1-1z"/><path d="M290.0 287.7l1 1l-1 1l-1-1z"/><path d="M287.7 284.0l1 1l-1 1l-1-1z"/><path d="M288.5 289.3l1 1l-1 1l-1-1z"/><path d="M291.5 283.7l1 1l-1 1l-1-1z"/><path d="M290.7 291.4l1 1l-1 1l-1-1z"/><path d="M288.3 290.9l1 1l-1 1l-1-1z"/><path d="M290.5 287.0l1 1l-1 1l-1-1z"/><path d="M288.6 295.3l1 1l-1 1l-1-1z"/><path d="M290.7 289.1l1 1l-1 1l-1-1z"/><path d="M287.0 292.1l1 1l-1 1l-1-1z"/><path d="M288.8 291.0l1 1l-1 1l-1-1z"/><path d="M289.0 290.3l1 1l-1 1l-1-1z"/><path d="M290.0 288.4l1 1l-1 1l-1-1z"/><path d="M287.1 285.4l1 1l-1 1l-1-1z"/><path d="M287.1 295.0l1 1l-1 1l-1-1z"/><path d="M288.0 284.2l1 1l-1 1l-1-1z"/><path d="M289.8 286.4l1 1l-1 1l-1-1z"/><path d="M289.5 290.6l1 1l-1 1l-1-1z"/><path d="M287.9 290.9l1 1l-1 1l-1-1z"/><path d="M287.1 290.0l1 1l-1 1l-1-1z"/><path d="M290.1 284.0l1 1l-1 1l-1-1z"/><path d="M285.0 294.0l1 1l-1 1l-1-1z"/><path d="M286.9 294.2l1 1l-1 1l-1-1z"/><path d="M283.2 298.7l1 1l-1 1l-1-1z"/><path d="M284.9 294.6l1 1l-1 1l-1-1z"/><path d="M287.0 294.4l1 1l-1 1l-1-1z"/><path d="M287.0 293.9l1 1l-1 1l-1-1z"/><path d="M284.0 295.8l1 1l-1 1l-1-1z"/><path d="M283.9 295.4l1 1l-1 1l-1-1z"/><path d="M286.7 296.2l1 1l-1 1l-1-1z"/><path d="M283.6 298.2l1 1l-1 1l-1-1z"/><path d="M283.4 295.8l1 1l-1 1l-1-1z"/><path d="M286.7 293.8l1 1l-1 1l-1-1z"/><path d="M286.1 294.1l1 1l-1 1l-1-1z"/><path d="M283.3 299.3l1 1l-1 1l-1-1z"/><path d="M286.5 295.1l1 1l-1 1l-1-1z"/><path d="M283.8 296.3l1 1l-1 1l-1-1z"/><path d="M283.3 293.6l1 1l-1 1l-1-1z"/><path d="M283.3 298.5l1 1l-1 1l-1-1z"/><path d="M283.7 297.0l1 1l-1 1l-1-1z"/><path d="M284.3 297.8l1 1l-1 1l-1-1z"/><path d="M239.2 248.2l1 1l-1 1l-1-1z"/><path d="M242.4 252.2l1 1l-1 1l-1-1z"/><path d="M241.2 254.9l1 1l-1 1l-1-1z"/><path d="M239.0 248.3l1 1l-1 1l-1-1z"/><path d="M240.0 255.5l1 1l-1 1l-1-1z"/><path d="M238.0 255.0l1 1l-1 1l-1-1z"/><path d="M241.1 250.7l1 1l-1 1l-1-1z"/><path d="M239.8 248.4l1 1l-1 1l-1-1z"/><path d="M242.2 250.7l1 1l-1 1l-1-1z"/><path d="M242.4 252.9l1 1l-1 1l-1-1z"/><path d="M238.2 255.7l1 1l-1 1l-1-1z"/><path d="M240.6 247.2l1 1l-1 1l-1-1z"/><path d="M237.9 250.4l1 1l-1 1l-1-1z"/><path d="M239.8 252.6l1 1l-1 1l-1-1z"/><path d="M239.3 250.3l1 1l-1 1l-1-1z"/><path d="M239.7 256.7l1 1l-1 1l-1-1z"/><path d="M241.1 249.5l1 1l-1 1l-1-1z"/><path d="M238.5 251.8l1 1l-1 1l-1-1z"/><path d="M238.5 252.5l1 1l-1 1l-1-1z"/><path d="M240.2 256.4l1 1l-1 1l-1-1z"/><path d="M240.4 254.5l1 1l-1 1l-1-1z"/><path d="M242.4 254.5l1 1l-1 1l-1-1z"/><path d="M240.9 253.1l1 1l-1 1l-1-1z"/><path d="M239.1 249.6l1 1l-1 1l-1-1z"/><path d="M241.9 255.5l1 1l-1 1l-1-1z"/><path d="M242.8 253.6l1 1l-1 1l-1-1z"/><path d="M238.7 254.4l1 1l-1 1l-1-1z"/><path d="M241.5 251.9l1 1l-1 1l-1-1z"/><path d="M240.9 250.3l1 1l-1 1l-1-1z"/><path d="M240.3 250.9l1 1l-1 1l-1-1z"/><path d="M239.9 250.5l1 1l-1 1l-1-1z"/><path d="M238.4 249.1l1 1l-1 1l-1-1z"/><path d="M239.0 248.2l1 1l-1 1l-1-1z"/><path d="M239.7 251.3l1 1l-1 1l-1-1z"/><path d="M240.4 249.8l1 1l-1 1l-1-1z"/><path d="M238.7 249.9l1 1l-1 1l-1-1z"/><path d="M241.5 252.3l1 1l-1 1l-1-1z"/><path d="M242.8 250.2l1 1l-1 1l-1-1z"/><path d="M242.7 252.6l1 1l-1 1l-1-1z"/><path d="M240.5 256.7l1 1l-1 1l-1-1z"/><path d="M239.1 254.5l1 1l-1 1l-1-1z"/><path d="M239.5 255.5l1 1l-1 1l-1-1z"/><path d="M278.5 249.3l1 1l-1 1l-1-1z"/><path d="M271.7 249.3l1 1l-1 1l-1-1z"/><path d="M276.7 248.9l1 1l-1 1l-1-1z"/><path d="M273.9 248.8l1 1l-1 1l-1-1z"/><path d="M275.7 253.7l1 1l-1 1l-1-1z"/><path d="M276.2 248.8l1 1l-1 1l-1-1z"/><path d="M275.7 247.9l1 1l-1 1l-1-1z"/><path d="M277.6 253.8l1 1l-1 1l-1-1z"/><path d="M273.3 248.3l1 1l-1 1l-1-1z"/><path d="M271.9 251.3l1 1l-1 1l-1-1z"/><path d="M278.3 252.0l1 1l-1 1l-1-1z"/><path d="M273.2 252.8l1 1l-1 1l-1-1z"/><path d="M276.2 250.3l1 1l-1 1l-1-1z"/><path d="M276.4 249.8l1 1l-1 1l-1-1z"/><path d="M270.7 250.4l1 1l-1 1l-1-1z"/><path d="M270.6 251.9l1 1l-1 1l-1-1z"/><path d="M273.3 251.0l1 1l-1 1l-1-1z"/><path d="M275.7 249.2l1 1l-1 1l-1-1z"/><path d="M274.5 247.4l1 1l-1 1l-1-1z"/><path d="M278.7 251.5l1 1l-1 1l-1-1z"/><path d="M275.8 252.7l1 1l-1 1l-1-1z"/><path d="M273.2 248.0l1 1l-1 1l-1-1z"/><path d="M271.6 248.4l1 1l-1 1l-1-1z"/><path d="M277.3 248.0l1 1l-1 1l-1-1z"/><path d="M277.7 250.4l1 1l-1 1l-1-1z"/><path d="M275.2 251.7l1 1l-1 1l-1-1z"/><path d="M275.3 252.2l1 1l-1 1l-1-1z"/><path d="M275.7 249.7l1 1l-1 1l-1-1z"/><path d="M277.0 249.2l1 1l-1 1l-1-1z"/><path d="M276.7 252.9l1 1l-1 1l-1-1z"/><path d="M277.3 249.6l1 1l-1 1l-1-1z"/><path d="M274.4 249.4l1 1l-1 1l-1-1z"/><path d="M275.0 254.3l1 1l-1 1l-1-1z"/><path d="M274.6 252.1l1 1l-1 1l-1-1z"/><path d="M277.3 250.0l1 1l-1 1l-1-1z"/><path d="M277.2 248.0l1 1l-1 1l-1-1z"/><path d="M270.8 251.0l1 1l-1 1l-1-1z"/><path d="M275.3 248.6l1 1l-1 1l-1-1z"/><path d="M278.8 250.0l1 1l-1 1l-1-1z"/><path d="M271.6 248.6l1 1l-1 1l-1-1z"/><path d="M277.0 254.1l1 1l-1 1l-1-1z"/><path d="M277.4 249.1l1 1l-1 1l-1-1z"/><path d="M279.2 251.0l1 1l-1 1l-1-1z"/><path d="M276.1 249.8l1 1l-1 1l-1-1z"/><path d="M277.6 250.7l1 1l-1 1l-1-1z"/><path d="M273.2 254.0l1 1l-1 1l-1-1z"/><path d="M271.2 252.7l1 1l-1 1l-1-1z"/><path d="M270.8 252.1l1 1l-1 1l-1-1z"/><path d="M273.9 253.7l1 1l-1 1l-1-1z"/><path d="M270.8 251.5l1 1l-1 1l-1-1z"/><path d="M274.0 254.1l1 1l-1 1l-1-1z"/><path d="M278.9 251.9l1 1l-1 1l-1-1z"/><path d="M272.3 249.2l1 1l-1 1l-1-1z"/><path d="M272.6 250.5l1 1l-1 1l-1-1z"/><path d="M272.3 248.8l1 1l-1 1l-1-1z"/><path d="M277.2 252.1l1 1l-1 1l-1-1z"/><path d="M272.2 251.5l1 1l-1 1l-1-1z"/><path d="M271.6 253.7l1 1l-1 1l-1-1z"/><path d="M278.2 249.3l1 1l-1 1l-1-1z"/><path d="M277.1 253.4l1 1l-1 1l-1-1z"/><path d="M272.8 249.8l1 1l-1 1l-1-1z"/><path d="M274.7 253.9l1 1l-1 1l-1-1z"/><path d="M290.1 249.6l1 1l-1 1l-1-1z"/><path d="M297.7 247.7l1 1l-1 1l-1-1z"/><path d="M297.4 251.2l1 1l-1 1l-1-1z"/><path d="M290.9 251.2l1 1l-1 1l-1-1z"/><path d="M293.6 250.4l1 1l-1 1l-1-1z"/><path d="M302.4 245.5l1 1l-1 1l-1-1z"/><path d="M289.9 250.0l1 1l-1 1l-1-1z"/><path d="M299.2 244.8l1 1l-1 1l-1-1z"/><path d="M293.2 251.5l1 1l-1 1l-1-1z"/><path d="M304.5 244.3l1 1l-1 1l-1-1z"/><path d="M291.4 250.5l1 1l-1 1l-1-1z"/><path d="M296.1 245.9l1 1l-1 1l-1-1z"/><path d="M292.8 251.2l1 1l-1 1l-1-1z"/><path d="M289.4 248.0l1 1l-1 1l-1-1z"/><path d="M289.6 247.5l1 1l-1 1l-1-1z"/><path d="M290.4 249.6l1 1l-1 1l-1-1z"/><path d="M289.8 250.0l1 1l-1 1l-1-1z"/><path d="M296.0 244.9l1 1l-1 1l-1-1z"/><path d="M293.5 248.1l1 1l-1 1l-1-1z"/><path d="M303.4 246.9l1 1l-1 1l-1-1z"/><path d="M291.0 251.9l1 1l-1 1l-1-1z"/><path d="M302.8 250.0l1 1l-1 1l-1-1z"/><path d="M292.0 245.5l1 1l-1 1l-1-1z"/><path d="M294.4 248.6l1 1l-1 1l-1-1z"/><path d="M299.3 249.4l1 1l-1 1l-1-1z"/><path d="M296.8 248.5l1 1l-1 1l-1-1z"/><path d="M302.6 249.9l1 1l-1 1l-1-1z"/><path d="M294.3 246.6l1 1l-1 1l-1-1z"/><path d="M294.0 247.2l1 1l-1 1l-1-1z"/><path d="M294.4 245.2l1 1l-1 1l-1-1z"/><path d="M304.8 244.1l1 1l-1 1l-1-1z"/><path d="M291.7 249.0l1 1l-1 1l-1-1z"/><path d="M293.9 246.0l1 1l-1 1l-1-1z"/><path d="M303.2 244.4l1 1l-1 1l-1-1z"/><path d="M299.4 246.7l1 1l-1 1l-1-1z"/><path d="M298.6 248.5l1 1l-1 1l-1-1z"/><path d="M292.8 252.0l1 1l-1 1l-1-1z"/><path d="M302.2 248.2l1 1l-1 1l-1-1z"/><path d="M291.4 249.2l1 1l-1 1l-1-1z"/><path d="M300.3 247.1l1 1l-1 1l-1-1z"/><path d="M299.8 247.2l1 1l-1 1l-1-1z"/><path d="M296.5 249.0l1 1l-1 1l-1-1z"/><path d="M299.1 246.7l1 1l-1 1l-1-1z"/><path d="M298.3 248.5l1 1l-1 1l-1-1z"/><path d="M291.2 249.0l1 1l-1 1l-1-1z"/><path d="M291.9 251.4l1 1l-1 1l-1-1z"/><path d="M295.6 249.9l1 1l-1 1l-1-1z"/><path d="M296.4 247.9l1 1l-1 1l-1-1z"/><path d="M303.5 248.3l1 1l-1 1l-1-1z"/><path d="M296.5 248.3l1 1l-1 1l-1-1z"/><path d="M301.5 246.0l1 1l-1 1l-1-1z"/><path d="M290.3 250.7l1 1l-1 1l-1-1z"/><path d="M295.3 249.2l1 1l-1 1l-1-1z"/><path d="M302.5 244.4l1 1l-1 1l-1-1z"/><path d="M293.9 250.8l1 1l-1 1l-1-1z"/><path d="M301.6 245.0l1 1l-1 1l-1-1z"/><path d="M301.4 248.3l1 1l-1 1l-1-1z"/><path d="M299.5 247.7l1 1l-1 1l-1-1z"/><path d="M295.6 250.5l1 1l-1 1l-1-1z"/><path d="M300.6 245.2l1 1l-1 1l-1-1z"/><path d="M299.2 247.0l1 1l-1 1l-1-1z"/><path d="M296.4 246.0l1 1l-1 1l-1-1z"/><path d="M293.8 246.8l1 1l-1 1l-1-1z"/><path d="M290.8 248.7l1 1l-1 1l-1-1z"/><path d="M299.9 246.3l1 1l-1 1l-1-1z"/><path d="M292.9 246.0l1 1l-1 1l-1-1z"/><path d="M301.9 244.8l1 1l-1 1l-1-1z"/><path d="M298.4 251.0l1 1l-1 1l-1-1z"/><path d="M290.8 247.5l1 1l-1 1l-1-1z"/><path d="M301.2 249.1l1 1l-1 1l-1-1z"/><path d="M295.0 247.0l1 1l-1 1l-1-1z"/><path d="M299.8 246.4l1 1l-1 1l-1-1z"/><path d="M294.4 249.3l1 1l-1 1l-1-1z"/><path d="M301.5 246.9l1 1l-1 1l-1-1z"/><path d="M294.0 248.7l1 1l-1 1l-1-1z"/><path d="M303.5 245.6l1 1l-1 1l-1-1z"/><path d="M293.8 249.5l1 1l-1 1l-1-1z"/><path d="M300.5 247.1l1 1l-1 1l-1-1z"/><path d="M304.7 238.4l1 1l-1 1l-1-1z"/><path d="M304.2 237.6l1 1l-1 1l-1-1z"/><path d="M304.3 247.8l1 1l-1 1l-1-1z"/><path d="M304.0 238.3l1 1l-1 1l-1-1z"/><path d="M304.6 246.2l1 1l-1 1l-1-1z"/><path d="M306.0 239.8l1 1l-1 1l-1-1z"/><path d="M301.1 246.1l1 1l-1 1l-1-1z"/><path d="M300.9 242.8l1 1l-1 1l-1-1z"/><path d="M306.2 238.1l1 1l-1 1l-1-1z"/><path d="M300.9 243.0l1 1l-1 1l-1-1z"/><path d="M303.8 240.5l1 1l-1 1l-1-1z"/><path d="M307.5 230.0l1 1l-1 1l-1-1z"/><path d="M303.2 238.9l1 1l-1 1l-1-1z"/><path d="M300.5 250.1l1 1l-1 1l-1-1z"/><path d="M302.7 232.8l1 1l-1 1l-1-1z"/><path d="M303.0 232.6l1 1l-1 1l-1-1z"/><path d="M304.6 236.6l1 1l-1 1l-1-1z"/><path d="M307.4 232.7l1 1l-1 1l-1-1z"/><path d="M304.8 235.5l1 1l-1 1l-1-1z"/><path d="M304.2 238.2l1 1l-1 1l-1-1z"/><path d="M305.2 235.3l1 1l-1 1l-1-1z"/><path d="M307.0 231.3l1 1l-1 1l-1-1z"/><path d="M304.8 236.3l1 1l-1 1l-1-1z"/><path d="M305.0 234.3l1 1l-1 1l-1-1z"/><path d="M302.7 245.5l1 1l-1 1l-1-1z"/><path d="M302.8 243.5l1 1l-1 1l-1-1z"/><path d="M304.1 248.9l1 1l-1 1l-1-1z"/><path d="M304.1 247.5l1 1l-1 1l-1-1z"/><path d="M307.5 228.3l1 1l-1 1l-1-1z"/><path d="M305.3 230.9l1 1l-1 1l-1-1z"/><path d="M302.8 231.6l1 1l-1 1l-1-1z"/><path d="M307.3 230.0l1 1l-1 1l-1-1z"/><path d="M303.8 242.3l1 1l-1 1l-1-1z"/><path d="M302.5 248.2l1 1l-1 1l-1-1z"/><path d="M306.0 230.2l1 1l-1 1l-1-1z"/><path d="M300.9 243.2l1 1l-1 1l-1-1z"/><path d="M300.8 246.5l1 1l-1 1l-1-1z"/><path d="M302.8 232.1l1 1l-1 1l-1-1z"/><path d="M305.2 234.2l1 1l-1 1l-1-1z"/><path d="M305.0 230.2l1 1l-1 1l-1-1z"/><path d="M307.3 230.2l1 1l-1 1l-1-1z"/><path d="M303.5 241.8l1 1l-1 1l-1-1z"/><path d="M302.2 239.6l1 1l-1 1l-1-1z"/><path d="M301.2 237.6l1 1l-1 1l-1-1z"/><path d="M306.4 236.8l1 1l-1 1l-1-1z"/><path d="M306.0 229.3l1 1l-1 1l-1-1z"/><path d="M307.2 229.5l1 1l-1 1l-1-1z"/><path d="M302.8 234.9l1 1l-1 1l-1-1z"/><path d="M306.5 238.4l1 1l-1 1l-1-1z"/><path d="M308.0 228.8l1 1l-1 1l-1-1z"/><path d="M304.4 247.2l1 1l-1 1l-1-1z"/><path d="M305.3 239.5l1 1l-1 1l-1-1z"/><path d="M302.6 247.9l1 1l-1 1l-1-1z"/><path d="M307.3 232.0l1 1l-1 1l-1-1z"/><path d="M308.0 227.3l1 1l-1 1l-1-1z"/><path d="M303.2 249.1l1 1l-1 1l-1-1z"/><path d="M303.1 237.3l1 1l-1 1l-1-1z"/><path d="M302.4 244.3l1 1l-1 1l-1-1z"/><path d="M249.1 254.1l1 1l-1 1l-1-1z"/><path d="M239.3 242.7l1 1l-1 1l-1-1z"/><path d="M243.6 248.3l1 1l-1 1l-1-1z"/><path d="M246.0 245.4l1 1l-1 1l-1-1z"/><path d="M260.9 237.0l1 1l-1 1l-1-1z"/><path d="M259.5 256.3l1 1l-1 1l-1-1z"/><path d="M247.1 225.4l1 1l-1 1l-1-1z"/><path d="M245.0 240.9l1 1l-1 1l-1-1z"/><path d="M248.1 243.7l1 1l-1 1l-1-1z"/><path d="M250.4 238.2l1 1l-1 1l-1-1z"/><path d="M250.8 226.8l1 1l-1 1l-1-1z"/><path d="M253.3 257.5l1 1l-1 1l-1-1z"/><path d="M252.6 252.5l1 1l-1 1l-1-1z"/><path d="M247.4 232.4l1 1l-1 1l-1-1z"/><path d="M239.1 237.8l1 1l-1 1l-1-1z"/><path d="M253.7 246.3l1 1l-1 1l-1-1z"/><path d="M253.6 251.9l1 1l-1 1l-1-1z"/><path d="M250.5 230.6l1 1l-1 1l-1-1z"/><path d="M250.5 247.4l1 1l-1 1l-1-1z"/><path d="M243.3 251.2l1 1l-1 1l-1-1z"/><path d="M254.1 256.2l1 1l-1 1l-1-1z"/><path d="M252.8 229.7l1 1l-1 1l-1-1z"/><path d="M260.0 246.1l1 1l-1 1l-1-1z"/><path d="M237.3 241.7l1 1l-1 1l-1-1z"/><path d="M238.1 226.1l1 1l-1 1l-1-1z"/><path d="M243.0 232.7l1 1l-1 1l-1-1z"/><path d="M245.2 249.8l1 1l-1 1l-1-1z"/><path d="M249.5 232.8l1 1l-1 1l-1-1z"/><path d="M252.2 258.3l1 1l-1 1l-1-1z"/><path d="M254.0 236.1l1 1l-1 1l-1-1z"/><path d="M274.4 254.1l1 1l-1 1l-1-1z"/><path d="M277.4 240.6l1 1l-1 1l-1-1z"/><path d="M270.7 243.7l1 1l-1 1l-1-1z"/><path d="M271.0 258.3l1 1l-1 1l-1-1z"/><path d="M270.1 254.2l1 1l-1 1l-1-1z"/><path d="M275.7 250.0l1 1l-1 1l-1-1z"/><path d="M277.4 253.9l1 1l-1 1l-1-1z"/><path d="M278.9 250.1l1 1l-1 1l-1-1z"/><path d="M269.5 242.1l1 1l-1 1l-1-1z"/><path d="M288.0 247.8l1 1l-1 1l-1-1z"/><path d="M302.5 249.3l1 1l-1 1l-1-1z"/><path d="M277.0 239.5l1 1l-1 1l-1-1z"/><path d="M283.5 250.9l1 1l-1 1l-1-1z"/><path d="M263.6 253.9l1 1l-1 1l-1-1z"/><path d="M290.8 249.7l1 1l-1 1l-1-1z"/><path d="M281.3 256.1l1 1l-1 1l-1-1z"/><path d="M278.0 240.4l1 1l-1 1l-1-1z"/><path d="M284.6 239.8l1 1l-1 1l-1-1z"/><path d="M281.8 254.9l1 1l-1 1l-1-1z"/><path d="M278.4 258.5l1 1l-1 1l-1-1z"/><path d="M263.8 242.2l1 1l-1 1l-1-1z"/><path d="M267.8 255.0l1 1l-1 1l-1-1z"/><path d="M297.6 249.1l1 1l-1 1l-1-1z"/><path d="M272.4 249.5l1 1l-1 1l-1-1z"/><path d="M283.4 244.6l1 1l-1 1l-1-1z"/><path d="M267.4 252.6l1 1l-1 1l-1-1z"/><path d="M263.6 252.4l1 1l-1 1l-1-1z"/><path d="M273.9 238.9l1 1l-1 1l-1-1z"/><path d="M303.3 248.3l1 1l-1 1l-1-1z"/><path d="M291.6 249.5l1 1l-1 1l-1-1z"/><path d="M285.1 250.1l1 1l-1 1l-1-1z"/><path d="M276.0 255.7l1 1l-1 1l-1-1z"/><path d="M263.7 237.5l1 1l-1 1l-1-1z"/><path d="M267.5 256.1l1 1l-1 1l-1-1z"/><path d="M280.2 253.7l1 1l-1 1l-1-1z"/><path d="M288.3 241.0l1 1l-1 1l-1-1z"/><path d="M274.9 249.2l1 1l-1 1l-1-1z"/><path d="M293.1 244.9l1 1l-1 1l-1-1z"/><path d="M288.1 249.6l1 1l-1 1l-1-1z"/><path d="M265.0 254.9l1 1l-1 1l-1-1z"/><path d="M280.0 250.1l1 1l-1 1l-1-1z"/><path d="M273.1 243.1l1 1l-1 1l-1-1z"/><path d="M271.1 256.7l1 1l-1 1l-1-1z"/><path d="M282.3 245.4l1 1l-1 1l-1-1z"/><path d="M264.4 245.2l1 1l-1 1l-1-1z"/><path d="M288.1 242.2l1 1l-1 1l-1-1z"/><path d="M281.0 257.8l1 1l-1 1l-1-1z"/><path d="M284.7 246.8l1 1l-1 1l-1-1z"/><path d="M277.9 255.6l1 1l-1 1l-1-1z"/><path d="M274.6 254.9l1 1l-1 1l-1-1z"/><path d="M279.7 251.5l1 1l-1 1l-1-1z"/><path d="M276.7 238.1l1 1l-1 1l-1-1z"/><path d="M271.7 245.9l1 1l-1 1l-1-1z"/><path d="M267.8 249.7l1 1l-1 1l-1-1z"/><path d="M285.0 240.3l1 1l-1 1l-1-1z"/><path d="M272.0 239.7l1 1l-1 1l-1-1z"/><path d="M275.0 250.5l1 1l-1 1l-1-1z"/><path d="M286.0 251.3l1 1l-1 1l-1-1z"/><path d="M286.0 247.6l1 1l-1 1l-1-1z"/><path d="M269.3 255.5l1 1l-1 1l-1-1z"/><path d="M275.2 242.5l1 1l-1 1l-1-1z"/><path d="M279.4 258.1l1 1l-1 1l-1-1z"/><path d="M269.9 248.0l1 1l-1 1l-1-1z"/><path d="M268.0 245.7l1 1l-1 1l-1-1z"/><path d="M280.2 250.7l1 1l-1 1l-1-1z"/><path d="M268.9 238.1l1 1l-1 1l-1-1z"/><path d="M282.6 251.0l1 1l-1 1l-1-1z"/><path d="M283.9 241.0l1 1l-1 1l-1-1z"/><path d="M280.0 252.2l1 1l-1 1l-1-1z"/><path d="M300.1 247.9l1 1l-1 1l-1-1z"/><path d="M274.7 255.5l1 1l-1 1l-1-1z"/><path d="M271.1 247.1l1 1l-1 1l-1-1z"/><path d="M277.3 254.6l1 1l-1 1l-1-1z"/><path d="M278.1 262.0l1 1l-1 1l-1-1z"/><path d="M284.0 246.3l1 1l-1 1l-1-1z"/><path d="M272.3 240.4l1 1l-1 1l-1-1z"/><path d="M264.6 246.8l1 1l-1 1l-1-1z"/><path d="M286.7 254.4l1 1l-1 1l-1-1z"/><path d="M283.2 256.7l1 1l-1 1l-1-1z"/><path d="M267.0 250.7l1 1l-1 1l-1-1z"/><path d="M303.5 248.6l1 1l-1 1l-1-1z"/><path d="M273.0 248.4l1 1l-1 1l-1-1z"/><path d="M283.6 250.1l1 1l-1 1l-1-1z"/><path d="M287.6 252.7l1 1l-1 1l-1-1z"/><path d="M302.4 248.1l1 1l-1 1l-1-1z"/><path d="M277.1 248.6l1 1l-1 1l-1-1z"/><path d="M277.6 250.2l1 1l-1 1l-1-1z"/><path d="M302.8 249.9l1 1l-1 1l-1-1z"/><path d="M283.8 239.9l1 1l-1 1l-1-1z"/><path d="M281.7 245.8l1 1l-1 1l-1-1z"/><path d="M281.2 245.1l1 1l-1 1l-1-1z"/><path d="M263.1 236.6l1 1l-1 1l-1-1z"/><path d="M280.5 241.0l1 1l-1 1l-1-1z"/><path d="M282.0 256.1l1 1l-1 1l-1-1z"/><path d="M268.2 250.9l1 1l-1 1l-1-1z"/><path d="M287.5 244.8l1 1l-1 1l-1-1z"/><path d="M281.3 242.8l1 1l-1 1l-1-1z"/><path d="M287.2 243.7l1 1l-1 1l-1-1z"/><path d="M278.0 248.4l1 1l-1 1l-1-1z"/><path d="M276.6 260.4l1 1l-1 1l-1-1z"/><path d="M264.3 249.6l1 1l-1 1l-1-1z"/><path d="M275.1 250.9l1 1l-1 1l-1-1z"/><path d="M272.4 245.6l1 1l-1 1l-1-1z"/><path d="M276.7 240.2l1 1l-1 1l-1-1z"/><path d="M281.9 257.1l1 1l-1 1l-1-1z"/><path d="M265.5 243.4l1 1l-1 1l-1-1z"/><path d="M281.3 242.7l1 1l-1 1l-1-1z"/><path d="M281.6 245.8l1 1l-1 1l-1-1z"/><path d="M272.5 249.5l1 1l-1 1l-1-1z"/><path d="M279.3 241.0l1 1l-1 1l-1-1z"/><path d="M261.2 249.6l1 1l-1 1l-1-1z"/><path d="M260.7 250.3l1 1l-1 1l-1-1z"/><path d="M261.4 248.5l1 1l-1 1l-1-1z"/><path d="M260.6 248.4l1 1l-1 1l-1-1z"/><path d="M262.3 249.8l1 1l-1 1l-1-1z"/><path d="M261.9 249.9l1 1l-1 1l-1-1z"/><path d="M260.4 249.7l1 1l-1 1l-1-1z"/><path d="M260.2 249.3l1 1l-1 1l-1-1z"/><path d="M259.9 250.0l1 1l-1 1l-1-1z"/><path d="M261.0 248.4l1 1l-1 1l-1-1z"/><path d="M254.9 244.7l1 1l-1 1l-1-1z"/><path d="M256.2 245.1l1 1l-1 1l-1-1z"/><path d="M256.3 243.8l1 1l-1 1l-1-1z"/><path d="M256.9 242.9l1 1l-1 1l-1-1z"/><path d="M255.3 242.9l1 1l-1 1l-1-1z"/><path d="M257.2 243.8l1 1l-1 1l-1-1z"/><path d="M256.7 243.3l1 1l-1 1l-1-1z"/><path d="M256.7 244.4l1 1l-1 1l-1-1z"/><path d="M246.2 248.0l1 1l-1 1l-1-1z"/><path d="M248.2 247.2l1 1l-1 1l-1-1z"/><path d="M248.0 247.4l1 1l-1 1l-1-1z"/><path d="M247.1 249.2l1 1l-1 1l-1-1z"/><path d="M247.3 248.2l1 1l-1 1l-1-1z"/><path d="M248.5 248.7l1 1l-1 1l-1-1z"/><path d="M262.4 240.5l1 1l-1 1l-1-1z"/><path d="M262.2 240.8l1 1l-1 1l-1-1z"/><path d="M262.4 238.4l1 1l-1 1l-1-1z"/><path d="M263.3 238.5l1 1l-1 1l-1-1z"/><path d="M263.1 238.2l1 1l-1 1l-1-1z"/><path d="M264.1 239.6l1 1l-1 1l-1-1z"/><path d="M263.3 238.5l1 1l-1 1l-1-1z"/><path d="M285.4 243.7l1 1l-1 1l-1-1z"/><path d="M284.2 244.9l1 1l-1 1l-1-1z"/><path d="M283.5 243.9l1 1l-1 1l-1-1z"/><path d="M284.9 243.9l1 1l-1 1l-1-1z"/><path d="M285.7 244.6l1 1l-1 1l-1-1z"/><path d="M284.5 245.2l1 1l-1 1l-1-1z"/><path d="M284.0 243.0l1 1l-1 1l-1-1z"/><path d="M286.0 242.9l1 1l-1 1l-1-1z"/><path d="M284.0 244.0l1 1l-1 1l-1-1z"/><path d="M284.5 243.1l1 1l-1 1l-1-1z"/><path d="M284.4 249.9l1 1l-1 1l-1-1z"/><path d="M283.9 249.3l1 1l-1 1l-1-1z"/><path d="M284.3 249.2l1 1l-1 1l-1-1z"/><path d="M284.3 250.3l1 1l-1 1l-1-1z"/><path d="M283.4 250.1l1 1l-1 1l-1-1z"/><path d="M284.1 249.8l1 1l-1 1l-1-1z"/><path d="M284.0 250.5l1 1l-1 1l-1-1z"/><path d="M283.8 249.2l1 1l-1 1l-1-1z"/><path d="M266.9 246.9l1 1l-1 1l-1-1z"/><path d="M265.9 246.5l1 1l-1 1l-1-1z"/><path d="M267.2 245.7l1 1l-1 1l-1-1z"/><path d="M265.9 245.0l1 1l-1 1l-1-1z"/><path d="M266.9 246.0l1 1l-1 1l-1-1z"/><path d="M266.3 245.6l1 1l-1 1l-1-1z"/><path d="M288.2 248.7l1 1l-1 1l-1-1z"/><path d="M288.3 247.1l1 1l-1 1l-1-1z"/><path d="M289.2 247.6l1 1l-1 1l-1-1z"/><path d="M286.8 248.2l1 1l-1 1l-1-1z"/><path d="M289.5 247.7l1 1l-1 1l-1-1z"/><path d="M288.2 247.5l1 1l-1 1l-1-1z"/><path d="M286.8 247.4l1 1l-1 1l-1-1z"/><path d="M288.4 248.2l1 1l-1 1l-1-1z"/><path d="M289.4 248.5l1 1l-1 1l-1-1z"/><path d="M287.6 249.3l1 1l-1 1l-1-1z"/><path d="M276.6 219.0l1 1l-1 1l-1-1z"/><path d="M275.9 222.2l1 1l-1 1l-1-1z"/><path d="M273.4 224.7l1 1l-1 1l-1-1z"/><path d="M275.3 225.3l1 1l-1 1l-1-1z"/><path d="M277.2 225.9l1 1l-1 1l-1-1z"/><path d="M277.8 227.8l1 1l-1 1l-1-1z"/><path d="M281.0 226.6l1 1l-1 1l-1-1z"/><path d="M281.2 223.0l1 1l-1 1l-1-1z"/><path d="M257.7 223.0l1 1l-1 1l-1-1z"/><path d="M260.2 221.8l1 1l-1 1l-1-1z"/><path d="M267.8 227.6l1 1l-1 1l-1-1z"/><path d="M263.4 231.6l1 1l-1 1l-1-1z"/><path d="M240.8 226.6l1 1l-1 1l-1-1z"/><path d="M240.2 228.4l1 1l-1 1l-1-1z"/><path d="M244.6 232.2l1 1l-1 1l-1-1z"/><path d="M237.6 225.3l1 1l-1 1l-1-1z"/><path d="M297.5 236.0l1 1l-1 1l-1-1z"/><path d="M300.5 237.9l1 1l-1 1l-1-1z"/><path d="M293.9 236.9l1 1l-1 1l-1-1z"/><path d="M293.1 242.4l1 1l-1 1l-1-1z"/><path d="M292.3 242.5l1 1l-1 1l-1-1z"/><path d="M296.4 230.9l1 1l-1 1l-1-1z"/><path d="M295.8 229.6l1 1l-1 1l-1-1z"/><path d="M300.2 237.9l1 1l-1 1l-1-1z"/><path d="M289.8 234.2l1 1l-1 1l-1-1z"/><path d="M296.6 227.9l1 1l-1 1l-1-1z"/><path d="M294.6 241.4l1 1l-1 1l-1-1z"/><path d="M296.9 240.2l1 1l-1 1l-1-1z"/><path d="M291.5 240.3l1 1l-1 1l-1-1z"/><path d="M292.7 241.1l1 1l-1 1l-1-1z"/><path d="M295.9 232.7l1 1l-1 1l-1-1z"/><path d="M298.3 228.8l1 1l-1 1l-1-1z"/><path d="M290.6 239.1l1 1l-1 1l-1-1z"/><path d="M292.7 230.0l1 1l-1 1l-1-1z"/><path d="M293.9 237.8l1 1l-1 1l-1-1z"/><path d="M297.7 230.2l1 1l-1 1l-1-1z"/><path d="M298.7 236.1l1 1l-1 1l-1-1z"/><path d="M293.9 241.4l1 1l-1 1l-1-1z"/><path d="M292.5 229.9l1 1l-1 1l-1-1z"/><path d="M291.2 230.1l1 1l-1 1l-1-1z"/><path d="M296.9 239.9l1 1l-1 1l-1-1z"/><path d="M277.0 218.9l1 1l-1 1l-1-1z"/><path d="M276.3 221.6l1 1l-1 1l-1-1z"/><path d="M281.4 222.9l1 1l-1 1l-1-1z"/><path d="M260.0 221.6l1 1l-1 1l-1-1z"/><path d="M257.3 222.9l1 1l-1 1l-1-1z"/></g>
<g fill="#d01c9a"><path d="M293.5 111.3l1.3 2.3h-2.6z"/><path d="M265.7 126.1l1.3 2.3h-2.6z"/><path d="M285.1 123.9l1.3 2.3h-2.6z"/><path d="M286.4 125.1l1.3 2.3h-2.6z"/><path d="M287.9 128.6l1.3 2.3h-2.6z"/><path d="M302.7 126.1l1.3 2.3h-2.6z"/><path d="M297.5 132.3l1.3 2.3h-2.6z"/><path d="M301.2 134.9l1.3 2.3h-2.6z"/><path d="M301.0 134.6l1.3 2.3h-2.6z"/><path d="M296.7 133.6l1.3 2.3h-2.6z"/><path d="M297.7 131.5l1.3 2.3h-2.6z"/><path d="M297.0 134.4l1.3 2.3h-2.6z"/><path d="M302.0 133.3l1.3 2.3h-2.6z"/><path d="M302.0 133.0l1.3 2.3h-2.6z"/><path d="M296.7 132.3l1.3 2.3h-2.6z"/><path d="M309.3 134.0l1.3 2.3h-2.6z"/><path d="M312.4 136.2l1.3 2.3h-2.6z"/><path d="M314.0 134.9l1.3 2.3h-2.6z"/><path d="M312.6 135.9l1.3 2.3h-2.6z"/><path d="M308.5 135.5l1.3 2.3h-2.6z"/><path d="M314.5 135.9l1.3 2.3h-2.6z"/><path d="M313.3 134.9l1.3 2.3h-2.6z"/><path d="M295.2 132.5l1.3 2.3h-2.6z"/><path d="M297.7 131.9l1.3 2.3h-2.6z"/><path d="M299.6 133.1l1.3 2.3h-2.6z"/><path d="M301.5 131.9l1.3 2.3h-2.6z"/><path d="M302.1 134.4l1.3 2.3h-2.6z"/><path d="M298.9 135.7l1.3 2.3h-2.6z"/><path d="M300.2 137.5l1.3 2.3h-2.6z"/><path d="M298.3 140.0l1.3 2.3h-2.6z"/><path d="M303.3 140.0l1.3 2.3h-2.6z"/><path d="M307.1 136.9l1.3 2.3h-2.6z"/><path d="M310.2 134.4l1.3 2.3h-2.6z"/><path d="M311.5 132.5l1.3 2.3h-2.6z"/><path d="M312.8 135.7l1.3 2.3h-2.6z"/><path d="M314.0 137.5l1.3 2.3h-2.6z"/><path d="M312.1 141.3l1.3 2.3h-2.6z"/><path d="M314.0 143.2l1.3 2.3h-2.6z"/><path d="M315.9 144.4l1.3 2.3h-2.6z"/><path d="M309.0 145.7l1.3 2.3h-2.6z"/><path d="M300.8 143.2l1.3 2.3h-2.6z"/><path d="M302.1 144.4l1.3 2.3h-2.6z"/><path d="M299.6 146.3l1.3 2.3h-2.6z"/><path d="M298.9 148.2l1.3 2.3h-2.6z"/><path d="M291.4 139.4l1.3 2.3h-2.6z"/><path d="M292.7 141.9l1.3 2.3h-2.6z"/><path d="M288.9 145.1l1.3 2.3h-2.6z"/><path d="M290.8 145.7l1.3 2.3h-2.6z"/><path d="M293.9 145.1l1.3 2.3h-2.6z"/><path d="M292.7 147.6l1.3 2.3h-2.6z"/><path d="M282.4 142.3l1.3 2.3h-2.6z"/><path d="M285.8 149.8l1.3 2.3h-2.6z"/><path d="M289.1 155.1l1.3 2.3h-2.6z"/><path d="M292.0 154.5l1.3 2.3h-2.6z"/><path d="M295.2 154.5l1.3 2.3h-2.6z"/><path d="M307.7 153.9l1.3 2.3h-2.6z"/><path d="M309.0 155.1l1.3 2.3h-2.6z"/><path d="M310.9 153.2l1.3 2.3h-2.6z"/><path d="M312.8 152.0l1.3 2.3h-2.6z"/><path d="M313.4 153.9l1.3 2.3h-2.6z"/><path d="M310.2 155.7l1.3 2.3h-2.6z"/><path d="M308.4 156.1l1.3 2.3h-2.6z"/><path d="M319.7 141.3l1.3 2.3h-2.6z"/><path d="M321.5 144.4l1.3 2.3h-2.6z"/><path d="M323.4 147.6l1.3 2.3h-2.6z"/><path d="M324.7 150.1l1.3 2.3h-2.6z"/><path d="M322.8 151.3l1.3 2.3h-2.6z"/><path d="M325.3 152.6l1.3 2.3h-2.6z"/><path d="M324.1 153.9l1.3 2.3h-2.6z"/><path d="M320.3 155.1l1.3 2.3h-2.6z"/><path d="M322.2 155.7l1.3 2.3h-2.6z"/><path d="M324.7 155.7l1.3 2.3h-2.6z"/><path d="M325.9 157.0l1.3 2.3h-2.6z"/><path d="M323.4 157.6l1.3 2.3h-2.6z"/><path d="M325.3 158.9l1.3 2.3h-2.6z"/><path d="M327.2 159.5l1.3 2.3h-2.6z"/><path d="M321.5 159.5l1.3 2.3h-2.6z"/><path d="M324.1 160.8l1.3 2.3h-2.6z"/><path d="M326.6 161.4l1.3 2.3h-2.6z"/><path d="M328.4 148.2l1.3 2.3h-2.6z"/><path d="M320.9 162.4l1.3 2.3h-2.6z"/><path d="M323.4 163.3l1.3 2.3h-2.6z"/><path d="M325.9 163.9l1.3 2.3h-2.6z"/><path d="M310.2 160.1l1.3 2.3h-2.6z"/><path d="M310.9 162.6l1.3 2.3h-2.6z"/><path d="M310.2 165.2l1.3 2.3h-2.6z"/><path d="M287.6 128.8l1.3 2.3h-2.6z"/><path d="M310.2 160.6l1.3 2.3h-2.6z"/><path d="M310.9 163.1l1.3 2.3h-2.6z"/><path d="M312.1 165.7l1.3 2.3h-2.6z"/><path d="M309.0 166.9l1.3 2.3h-2.6z"/><path d="M307.7 168.2l1.3 2.3h-2.6z"/><path d="M312.8 167.5l1.3 2.3h-2.6z"/><path d="M305.2 171.3l1.3 2.3h-2.6z"/><path d="M309.0 171.3l1.3 2.3h-2.6z"/><path d="M313.4 171.3l1.3 2.3h-2.6z"/><path d="M317.1 170.7l1.3 2.3h-2.6z"/><path d="M312.1 173.6l1.3 2.3h-2.6z"/><path d="M312.1 180.7l1.3 2.3h-2.6z"/><path d="M309.2 182.4l1.3 2.3h-2.6z"/><path d="M305.8 185.7l1.3 2.3h-2.6z"/><path d="M309.6 192.0l1.3 2.3h-2.6z"/><path d="M261.3 184.9l1.3 2.3h-2.6z"/><path d="M266.3 185.1l1.3 2.3h-2.6z"/><path d="M260.3 191.4l1.3 2.3h-2.6z"/><path d="M262.5 196.4l1.3 2.3h-2.6z"/><path d="M290.8 195.2l1.3 2.3h-2.6z"/><path d="M295.2 195.8l1.3 2.3h-2.6z"/><path d="M295.3 193.0l1.3 2.3h-2.6z"/><path d="M296.4 193.1l1.3 2.3h-2.6z"/><path d="M301.3 190.5l1.3 2.3h-2.6z"/><path d="M297.0 194.0l1.3 2.3h-2.6z"/><path d="M299.4 189.0l1.3 2.3h-2.6z"/><path d="M295.0 193.2l1.3 2.3h-2.6z"/><path d="M296.6 191.5l1.3 2.3h-2.6z"/><path d="M301.3 192.1l1.3 2.3h-2.6z"/><path d="M297.9 193.9l1.3 2.3h-2.6z"/><path d="M297.2 193.5l1.3 2.3h-2.6z"/><path d="M300.2 189.3l1.3 2.3h-2.6z"/><path d="M295.8 189.8l1.3 2.3h-2.6z"/><path d="M295.7 191.7l1.3 2.3h-2.6z"/><path d="M295.9 190.6l1.3 2.3h-2.6z"/><path d="M296.6 190.9l1.3 2.3h-2.6z"/><path d="M298.3 193.7l1.3 2.3h-2.6z"/><path d="M297.1 193.8l1.3 2.3h-2.6z"/><path d="M297.7 191.4l1.3 2.3h-2.6z"/><path d="M297.9 188.1l1.3 2.3h-2.6z"/><path d="M297.2 189.1l1.3 2.3h-2.6z"/><path d="M295.2 191.0l1.3 2.3h-2.6z"/><path d="M299.4 191.5l1.3 2.3h-2.6z"/><path d="M296.4 191.3l1.3 2.3h-2.6z"/><path d="M298.1 193.0l1.3 2.3h-2.6z"/><path d="M294.7 191.5l1.3 2.3h-2.6z"/><path d="M295.8 189.7l1.3 2.3h-2.6z"/><path d="M299.8 191.2l1.3 2.3h-2.6z"/><path d="M298.2 192.8l1.3 2.3h-2.6z"/><path d="M300.8 190.8l1.3 2.3h-2.6z"/><path d="M298.6 191.2l1.3 2.3h-2.6z"/><path d="M297.8 192.4l1.3 2.3h-2.6z"/><path d="M297.3 191.4l1.3 2.3h-2.6z"/><path d="M297.5 194.0l1.3 2.3h-2.6z"/><path d="M299.2 193.6l1.3 2.3h-2.6z"/><path d="M298.2 194.0l1.3 2.3h-2.6z"/><path d="M300.3 188.8l1.3 2.3h-2.6z"/><path d="M294.8 190.8l1.3 2.3h-2.6z"/><path d="M294.5 189.5l1.3 2.3h-2.6z"/><path d="M294.5 192.2l1.3 2.3h-2.6z"/><path d="M299.9 193.7l1.3 2.3h-2.6z"/><path d="M295.1 192.5l1.3 2.3h-2.6z"/><path d="M298.9 188.9l1.3 2.3h-2.6z"/><path d="M260.3 191.3l1.3 2.3h-2.6z"/><path d="M262.5 197.3l1.3 2.3h-2.6z"/><path d="M275.1 205.7l1.3 2.3h-2.6z"/><path d="M280.7 211.6l1.3 2.3h-2.6z"/><path d="M289.9 204.8l1.3 2.3h-2.6z"/><path d="M293.3 201.3l1.3 2.3h-2.6z"/><path d="M290.5 194.4l1.3 2.3h-2.6z"/><path d="M294.9 196.3l1.3 2.3h-2.6z"/><path d="M304.3 197.3l1.3 2.3h-2.6z"/><path d="M309.6 191.5l1.3 2.3h-2.6z"/><path d="M327.8 165.6l1.3 2.3h-2.6z"/><path d="M320.7 165.2l1.3 2.3h-2.6z"/><path d="M322.7 153.2l1.3 2.3h-2.6z"/><path d="M329.0 162.1l1.3 2.3h-2.6z"/><path d="M323.9 149.4l1.3 2.3h-2.6z"/><path d="M320.5 148.9l1.3 2.3h-2.6z"/><path d="M324.3 152.0l1.3 2.3h-2.6z"/><path d="M325.1 153.9l1.3 2.3h-2.6z"/><path d="M326.8 165.7l1.3 2.3h-2.6z"/><path d="M319.5 147.5l1.3 2.3h-2.6z"/><path d="M321.3 144.0l1.3 2.3h-2.6z"/><path d="M322.9 164.1l1.3 2.3h-2.6z"/><path d="M327.1 147.3l1.3 2.3h-2.6z"/><path d="M320.0 164.3l1.3 2.3h-2.6z"/><path d="M324.5 158.7l1.3 2.3h-2.6z"/><path d="M325.7 151.6l1.3 2.3h-2.6z"/><path d="M325.2 161.3l1.3 2.3h-2.6z"/><path d="M323.2 149.4l1.3 2.3h-2.6z"/><path d="M324.3 164.5l1.3 2.3h-2.6z"/><path d="M321.3 144.0l1.3 2.3h-2.6z"/><path d="M324.0 146.8l1.3 2.3h-2.6z"/><path d="M319.6 144.8l1.3 2.3h-2.6z"/><path d="M318.9 145.9l1.3 2.3h-2.6z"/><path d="M321.7 148.5l1.3 2.3h-2.6z"/><path d="M326.5 148.1l1.3 2.3h-2.6z"/><path d="M323.7 145.3l1.3 2.3h-2.6z"/><path d="M326.2 154.9l1.3 2.3h-2.6z"/><path d="M320.4 152.9l1.3 2.3h-2.6z"/><path d="M327.1 151.8l1.3 2.3h-2.6z"/><path d="M323.7 162.2l1.3 2.3h-2.6z"/><path d="M322.6 153.7l1.3 2.3h-2.6z"/><path d="M325.7 166.0l1.3 2.3h-2.6z"/><path d="M322.1 162.1l1.3 2.3h-2.6z"/><path d="M325.9 157.0l1.3 2.3h-2.6z"/><path d="M322.7 149.6l1.3 2.3h-2.6z"/><path d="M321.1 144.9l1.3 2.3h-2.6z"/><path d="M327.7 157.9l1.3 2.3h-2.6z"/><path d="M321.4 146.9l1.3 2.3h-2.6z"/><path d="M321.5 152.5l1.3 2.3h-2.6z"/><path d="M321.2 165.4l1.3 2.3h-2.6z"/><path d="M328.8 154.8l1.3 2.3h-2.6z"/><path d="M321.0 165.5l1.3 2.3h-2.6z"/><path d="M321.7 149.9l1.3 2.3h-2.6z"/><path d="M323.5 153.6l1.3 2.3h-2.6z"/><path d="M320.5 153.7l1.3 2.3h-2.6z"/><path d="M321.6 146.7l1.3 2.3h-2.6z"/><path d="M324.7 154.3l1.3 2.3h-2.6z"/><path d="M326.4 157.6l1.3 2.3h-2.6z"/><path d="M326.0 163.3l1.3 2.3h-2.6z"/><path d="M322.6 149.1l1.3 2.3h-2.6z"/><path d="M326.1 157.2l1.3 2.3h-2.6z"/><path d="M327.9 156.8l1.3 2.3h-2.6z"/><path d="M328.5 189.3l1.3 2.3h-2.6z"/><path d="M321.0 178.5l1.3 2.3h-2.6z"/><path d="M325.6 190.2l1.3 2.3h-2.6z"/><path d="M329.4 189.9l1.3 2.3h-2.6z"/><path d="M326.6 192.4l1.3 2.3h-2.6z"/><path d="M327.9 184.9l1.3 2.3h-2.6z"/><path d="M322.2 159.9l1.3 2.3h-2.6z"/><path d="M320.6 190.2l1.3 2.3h-2.6z"/><path d="M326.3 182.4l1.3 2.3h-2.6z"/><path d="M327.1 184.4l1.3 2.3h-2.6z"/><path d="M325.4 158.9l1.3 2.3h-2.6z"/><path d="M329.3 186.9l1.3 2.3h-2.6z"/><path d="M325.6 178.9l1.3 2.3h-2.6z"/><path d="M327.6 161.2l1.3 2.3h-2.6z"/><path d="M328.5 168.2l1.3 2.3h-2.6z"/><path d="M328.4 166.5l1.3 2.3h-2.6z"/><path d="M328.6 195.5l1.3 2.3h-2.6z"/><path d="M325.5 173.2l1.3 2.3h-2.6z"/><path d="M325.3 184.5l1.3 2.3h-2.6z"/><path d="M328.9 182.0l1.3 2.3h-2.6z"/><path d="M327.4 161.7l1.3 2.3h-2.6z"/><path d="M328.6 170.2l1.3 2.3h-2.6z"/><path d="M326.4 159.2l1.3 2.3h-2.6z"/><path d="M327.7 184.8l1.3 2.3h-2.6z"/><path d="M327.8 169.7l1.3 2.3h-2.6z"/><path d="M325.8 176.3l1.3 2.3h-2.6z"/><path d="M325.1 163.2l1.3 2.3h-2.6z"/><path d="M330.5 166.3l1.3 2.3h-2.6z"/><path d="M324.9 168.9l1.3 2.3h-2.6z"/><path d="M321.9 194.4l1.3 2.3h-2.6z"/><path d="M321.9 180.7l1.3 2.3h-2.6z"/><path d="M321.1 178.5l1.3 2.3h-2.6z"/><path d="M329.6 177.9l1.3 2.3h-2.6z"/><path d="M330.4 185.2l1.3 2.3h-2.6z"/><path d="M322.2 192.6l1.3 2.3h-2.6z"/><path d="M325.4 159.7l1.3 2.3h-2.6z"/><path d="M324.9 170.1l1.3 2.3h-2.6z"/><path d="M323.2 190.4l1.3 2.3h-2.6z"/><path d="M329.8 163.3l1.3 2.3h-2.6z"/><path d="M330.6 169.7l1.3 2.3h-2.6z"/><path d="M324.0 173.5l1.3 2.3h-2.6z"/><path d="M323.8 174.9l1.3 2.3h-2.6z"/><path d="M322.7 160.6l1.3 2.3h-2.6z"/><path d="M320.6 190.2l1.3 2.3h-2.6z"/><path d="M322.9 194.0l1.3 2.3h-2.6z"/><path d="M325.7 165.9l1.3 2.3h-2.6z"/><path d="M324.0 194.8l1.3 2.3h-2.6z"/><path d="M327.2 193.2l1.3 2.3h-2.6z"/><path d="M331.1 179.4l1.3 2.3h-2.6z"/><path d="M328.3 160.6l1.3 2.3h-2.6z"/><path d="M328.5 175.7l1.3 2.3h-2.6z"/><path d="M328.7 183.0l1.3 2.3h-2.6z"/><path d="M322.9 160.6l1.3 2.3h-2.6z"/><path d="M325.2 171.7l1.3 2.3h-2.6z"/><path d="M323.0 186.6l1.3 2.3h-2.6z"/><path d="M327.5 170.1l1.3 2.3h-2.6z"/><path d="M326.3 173.6l1.3 2.3h-2.6z"/><path d="M321.9 192.9l1.3 2.3h-2.6z"/><path d="M325.5 167.0l1.3 2.3h-2.6z"/><path d="M324.9 164.0l1.3 2.3h-2.6z"/><path d="M321.7 162.2l1.3 2.3h-2.6z"/><path d="M323.6 162.2l1.3 2.3h-2.6z"/><path d="M326.4 192.2l1.3 2.3h-2.6z"/><path d="M328.7 174.3l1.3 2.3h-2.6z"/><path d="M324.5 178.5l1.3 2.3h-2.6z"/><path d="M324.0 171.5l1.3 2.3h-2.6z"/><path d="M325.6 182.5l1.3 2.3h-2.6z"/><path d="M330.1 166.9l1.3 2.3h-2.6z"/><path d="M324.3 175.5l1.3 2.3h-2.6z"/><path d="M319.7 185.5l1.3 2.3h-2.6z"/><path d="M330.5 176.6l1.3 2.3h-2.6z"/><path d="M326.7 158.8l1.3 2.3h-2.6z"/><path d="M324.2 193.7l1.3 2.3h-2.6z"/><path d="M325.8 184.4l1.3 2.3h-2.6z"/><path d="M327.4 187.6l1.3 2.3h-2.6z"/><path d="M325.0 179.5l1.3 2.3h-2.6z"/><path d="M319.8 188.2l1.3 2.3h-2.6z"/><path d="M322.2 193.4l1.3 2.3h-2.6z"/><path d="M327.4 170.2l1.3 2.3h-2.6z"/><path d="M327.3 185.1l1.3 2.3h-2.6z"/><path d="M325.9 180.7l1.3 2.3h-2.6z"/><path d="M326.8 159.1l1.3 2.3h-2.6z"/><path d="M323.1 176.1l1.3 2.3h-2.6z"/><path d="M330.4 176.7l1.3 2.3h-2.6z"/><path d="M323.1 159.6l1.3 2.3h-2.6z"/><path d="M325.5 184.2l1.3 2.3h-2.6z"/><path d="M324.6 168.4l1.3 2.3h-2.6z"/><path d="M327.7 193.6l1.3 2.3h-2.6z"/><path d="M322.1 160.0l1.3 2.3h-2.6z"/><path d="M323.5 174.6l1.3 2.3h-2.6z"/><path d="M327.9 166.2l1.3 2.3h-2.6z"/><path d="M329.3 186.6l1.3 2.3h-2.6z"/><path d="M325.6 166.5l1.3 2.3h-2.6z"/><path d="M331.5 170.5l1.3 2.3h-2.6z"/><path d="M329.6 167.4l1.3 2.3h-2.6z"/><path d="M322.1 187.4l1.3 2.3h-2.6z"/><path d="M323.0 194.6l1.3 2.3h-2.6z"/><path d="M325.5 165.8l1.3 2.3h-2.6z"/><path d="M322.1 174.5l1.3 2.3h-2.6z"/><path d="M327.6 194.5l1.3 2.3h-2.6z"/><path d="M322.0 195.4l1.3 2.3h-2.6z"/><path d="M321.1 160.7l1.3 2.3h-2.6z"/><path d="M331.0 171.2l1.3 2.3h-2.6z"/><path d="M321.6 194.0l1.3 2.3h-2.6z"/><path d="M328.7 160.0l1.3 2.3h-2.6z"/><path d="M327.6 173.0l1.3 2.3h-2.6z"/><path d="M324.0 171.2l1.3 2.3h-2.6z"/><path d="M321.4 158.9l1.3 2.3h-2.6z"/><path d="M323.8 189.7l1.3 2.3h-2.6z"/><path d="M329.6 175.0l1.3 2.3h-2.6z"/><path d="M324.0 193.4l1.3 2.3h-2.6z"/><path d="M324.4 189.3l1.3 2.3h-2.6z"/><path d="M328.9 160.3l1.3 2.3h-2.6z"/><path d="M330.8 168.4l1.3 2.3h-2.6z"/><path d="M328.7 192.6l1.3 2.3h-2.6z"/><path d="M322.6 185.7l1.3 2.3h-2.6z"/><path d="M319.3 187.2l1.3 2.3h-2.6z"/><path d="M330.8 182.6l1.3 2.3h-2.6z"/><path d="M322.2 176.6l1.3 2.3h-2.6z"/><path d="M324.7 177.3l1.3 2.3h-2.6z"/><path d="M329.4 186.6l1.3 2.3h-2.6z"/><path d="M329.6 187.9l1.3 2.3h-2.6z"/><path d="M326.9 171.1l1.3 2.3h-2.6z"/><path d="M323.3 172.4l1.3 2.3h-2.6z"/><path d="M329.1 161.7l1.3 2.3h-2.6z"/><path d="M321.8 187.1l1.3 2.3h-2.6z"/><path d="M322.4 161.2l1.3 2.3h-2.6z"/><path d="M323.4 195.7l1.3 2.3h-2.6z"/><path d="M322.6 161.9l1.3 2.3h-2.6z"/><path d="M320.5 177.5l1.3 2.3h-2.6z"/><path d="M328.2 175.6l1.3 2.3h-2.6z"/><path d="M322.2 174.5l1.3 2.3h-2.6z"/><path d="M327.1 184.1l1.3 2.3h-2.6z"/><path d="M328.7 190.7l1.3 2.3h-2.6z"/><path d="M327.6 163.3l1.3 2.3h-2.6z"/><path d="M329.8 169.8l1.3 2.3h-2.6z"/><path d="M326.4 172.8l1.3 2.3h-2.6z"/><path d="M328.5 166.3l1.3 2.3h-2.6z"/><path d="M321.2 192.1l1.3 2.3h-2.6z"/><path d="M326.5 171.0l1.3 2.3h-2.6z"/><path d="M324.3 196.1l1.3 2.3h-2.6z"/><path d="M325.7 167.5l1.3 2.3h-2.6z"/><path d="M329.4 183.4l1.3 2.3h-2.6z"/><path d="M325.2 189.6l1.3 2.3h-2.6z"/><path d="M331.0 172.8l1.3 2.3h-2.6z"/><path d="M330.2 175.7l1.3 2.3h-2.6z"/><path d="M322.5 188.0l1.3 2.3h-2.6z"/><path d="M326.8 182.1l1.3 2.3h-2.6z"/><path d="M322.5 181.3l1.3 2.3h-2.6z"/><path d="M327.5 166.4l1.3 2.3h-2.6z"/><path d="M327.8 165.7l1.3 2.3h-2.6z"/><path d="M329.3 179.4l1.3 2.3h-2.6z"/><path d="M324.2 179.5l1.3 2.3h-2.6z"/><path d="M327.3 162.2l1.3 2.3h-2.6z"/><path d="M321.3 184.9l1.3 2.3h-2.6z"/><path d="M324.4 169.4l1.3 2.3h-2.6z"/><path d="M323.1 194.7l1.3 2.3h-2.6z"/><path d="M323.2 180.1l1.3 2.3h-2.6z"/><path d="M323.8 174.4l1.3 2.3h-2.6z"/><path d="M328.4 166.4l1.3 2.3h-2.6z"/><path d="M324.6 189.6l1.3 2.3h-2.6z"/><path d="M324.4 192.0l1.3 2.3h-2.6z"/><path d="M325.1 164.9l1.3 2.3h-2.6z"/><path d="M327.3 193.0l1.3 2.3h-2.6z"/><path d="M320.4 182.2l1.3 2.3h-2.6z"/><path d="M323.9 177.8l1.3 2.3h-2.6z"/><path d="M325.8 193.6l1.3 2.3h-2.6z"/><path d="M320.6 177.2l1.3 2.3h-2.6z"/><path d="M321.8 163.5l1.3 2.3h-2.6z"/><path d="M325.3 160.8l1.3 2.3h-2.6z"/><path d="M330.9 173.4l1.3 2.3h-2.6z"/><path d="M330.6 182.1l1.3 2.3h-2.6z"/><path d="M329.6 164.8l1.3 2.3h-2.6z"/><path d="M329.1 167.1l1.3 2.3h-2.6z"/><path d="M324.4 190.6l1.3 2.3h-2.6z"/><path d="M329.7 165.6l1.3 2.3h-2.6z"/><path d="M322.0 173.8l1.3 2.3h-2.6z"/><path d="M325.8 173.2l1.3 2.3h-2.6z"/><path d="M328.4 192.5l1.3 2.3h-2.6z"/><path d="M328.8 160.2l1.3 2.3h-2.6z"/><path d="M329.8 163.2l1.3 2.3h-2.6z"/><path d="M326.8 179.5l1.3 2.3h-2.6z"/><path d="M327.2 170.3l1.3 2.3h-2.6z"/><path d="M324.6 180.7l1.3 2.3h-2.6z"/><path d="M324.6 183.6l1.3 2.3h-2.6z"/><path d="M324.9 175.3l1.3 2.3h-2.6z"/><path d="M325.4 167.6l1.3 2.3h-2.6z"/><path d="M328.9 188.1l1.3 2.3h-2.6z"/><path d="M325.0 165.5l1.3 2.3h-2.6z"/><path d="M325.2 162.8l1.3 2.3h-2.6z"/><path d="M320.9 175.0l1.3 2.3h-2.6z"/><path d="M320.4 175.4l1.3 2.3h-2.6z"/><path d="M325.7 160.3l1.3 2.3h-2.6z"/><path d="M327.3 161.8l1.3 2.3h-2.6z"/><path d="M328.5 188.0l1.3 2.3h-2.6z"/><path d="M325.7 160.8l1.3 2.3h-2.6z"/><path d="M325.6 173.0l1.3 2.3h-2.6z"/><path d="M328.5 189.4l1.3 2.3h-2.6z"/><path d="M321.7 195.7l1.3 2.3h-2.6z"/><path d="M325.5 194.8l1.3 2.3h-2.6z"/><path d="M328.8 164.7l1.3 2.3h-2.6z"/><path d="M330.5 169.1l1.3 2.3h-2.6z"/><path d="M329.5 164.2l1.3 2.3h-2.6z"/><path d="M325.6 193.4l1.3 2.3h-2.6z"/><path d="M325.6 170.8l1.3 2.3h-2.6z"/><path d="M321.3 194.0l1.3 2.3h-2.6z"/><path d="M327.8 192.5l1.3 2.3h-2.6z"/><path d="M321.4 188.3l1.3 2.3h-2.6z"/><path d="M320.7 178.7l1.3 2.3h-2.6z"/><path d="M327.3 172.3l1.3 2.3h-2.6z"/><path d="M330.2 179.7l1.3 2.3h-2.6z"/><path d="M326.6 192.0l1.3 2.3h-2.6z"/><path d="M320.6 196.1l1.3 2.3h-2.6z"/><path d="M327.2 173.6l1.3 2.3h-2.6z"/><path d="M329.3 168.7l1.3 2.3h-2.6z"/><path d="M318.8 207.9l1.3 2.3h-2.6z"/><path d="M320.1 193.2l1.3 2.3h-2.6z"/><path d="M325.0 190.0l1.3 2.3h-2.6z"/><path d="M326.2 195.1l1.3 2.3h-2.6z"/><path d="M322.4 205.4l1.3 2.3h-2.6z"/><path d="M322.9 199.6l1.3 2.3h-2.6z"/><path d="M323.5 189.3l1.3 2.3h-2.6z"/><path d="M316.6 203.4l1.3 2.3h-2.6z"/><path d="M322.5 193.9l1.3 2.3h-2.6z"/><path d="M323.0 200.7l1.3 2.3h-2.6z"/><path d="M315.2 212.3l1.3 2.3h-2.6z"/><path d="M319.5 195.4l1.3 2.3h-2.6z"/><path d="M322.0 197.5l1.3 2.3h-2.6z"/><path d="M323.4 199.9l1.3 2.3h-2.6z"/><path d="M319.5 194.7l1.3 2.3h-2.6z"/><path d="M328.1 192.3l1.3 2.3h-2.6z"/><path d="M316.2 204.0l1.3 2.3h-2.6z"/><path d="M321.2 204.9l1.3 2.3h-2.6z"/><path d="M326.1 193.1l1.3 2.3h-2.6z"/><path d="M318.0 196.3l1.3 2.3h-2.6z"/><path d="M313.8 211.1l1.3 2.3h-2.6z"/><path d="M313.1 210.0l1.3 2.3h-2.6z"/><path d="M325.0 200.4l1.3 2.3h-2.6z"/><path d="M324.9 200.1l1.3 2.3h-2.6z"/><path d="M318.4 207.6l1.3 2.3h-2.6z"/><path d="M324.4 195.4l1.3 2.3h-2.6z"/><path d="M321.9 199.7l1.3 2.3h-2.6z"/><path d="M317.3 204.9l1.3 2.3h-2.6z"/><path d="M327.1 189.1l1.3 2.3h-2.6z"/><path d="M325.0 197.0l1.3 2.3h-2.6z"/><path d="M320.0 206.9l1.3 2.3h-2.6z"/><path d="M322.2 196.5l1.3 2.3h-2.6z"/><path d="M316.4 204.4l1.3 2.3h-2.6z"/><path d="M314.3 211.6l1.3 2.3h-2.6z"/><path d="M314.7 212.1l1.3 2.3h-2.6z"/><path d="M318.8 209.3l1.3 2.3h-2.6z"/><path d="M314.1 210.5l1.3 2.3h-2.6z"/><path d="M323.2 196.0l1.3 2.3h-2.6z"/><path d="M325.2 193.9l1.3 2.3h-2.6z"/><path d="M318.1 199.4l1.3 2.3h-2.6z"/><path d="M317.5 206.7l1.3 2.3h-2.6z"/><path d="M318.9 196.8l1.3 2.3h-2.6z"/><path d="M320.0 208.2l1.3 2.3h-2.6z"/><path d="M318.6 206.4l1.3 2.3h-2.6z"/><path d="M321.6 194.2l1.3 2.3h-2.6z"/><path d="M326.9 191.0l1.3 2.3h-2.6z"/><path d="M326.2 193.0l1.3 2.3h-2.6z"/><path d="M316.0 201.2l1.3 2.3h-2.6z"/><path d="M324.2 201.3l1.3 2.3h-2.6z"/><path d="M314.8 204.7l1.3 2.3h-2.6z"/><path d="M314.3 208.5l1.3 2.3h-2.6z"/><path d="M323.1 197.7l1.3 2.3h-2.6z"/><path d="M319.5 198.7l1.3 2.3h-2.6z"/><path d="M327.3 190.9l1.3 2.3h-2.6z"/><path d="M327.3 189.4l1.3 2.3h-2.6z"/><path d="M316.8 200.3l1.3 2.3h-2.6z"/><path d="M318.6 197.0l1.3 2.3h-2.6z"/><path d="M315.5 209.9l1.3 2.3h-2.6z"/><path d="M315.7 199.8l1.3 2.3h-2.6z"/><path d="M315.0 200.4l1.3 2.3h-2.6z"/><path d="M327.2 194.7l1.3 2.3h-2.6z"/><path d="M317.0 196.9l1.3 2.3h-2.6z"/><path d="M321.4 192.8l1.3 2.3h-2.6z"/><path d="M314.6 212.9l1.3 2.3h-2.6z"/><path d="M324.8 199.7l1.3 2.3h-2.6z"/><path d="M316.2 204.8l1.3 2.3h-2.6z"/><path d="M319.4 208.6l1.3 2.3h-2.6z"/><path d="M324.1 201.3l1.3 2.3h-2.6z"/><path d="M323.2 200.4l1.3 2.3h-2.6z"/><path d="M315.3 203.9l1.3 2.3h-2.6z"/><path d="M319.5 207.4l1.3 2.3h-2.6z"/><path d="M319.8 194.5l1.3 2.3h-2.6z"/><path d="M323.3 200.1l1.3 2.3h-2.6z"/><path d="M318.0 204.5l1.3 2.3h-2.6z"/><path d="M323.1 195.0l1.3 2.3h-2.6z"/><path d="M319.8 200.2l1.3 2.3h-2.6z"/><path d="M323.0 199.0l1.3 2.3h-2.6z"/><path d="M315.9 205.2l1.3 2.3h-2.6z"/><path d="M325.5 198.5l1.3 2.3h-2.6z"/><path d="M315.6 208.4l1.3 2.3h-2.6z"/><path d="M314.6 203.2l1.3 2.3h-2.6z"/><path d="M321.7 206.8l1.3 2.3h-2.6z"/><path d="M321.2 204.8l1.3 2.3h-2.6z"/><path d="M316.4 205.9l1.3 2.3h-2.6z"/><path d="M319.3 207.9l1.3 2.3h-2.6z"/><path d="M315.0 213.5l1.3 2.3h-2.6z"/><path d="M317.4 198.8l1.3 2.3h-2.6z"/><path d="M319.8 206.3l1.3 2.3h-2.6z"/><path d="M318.7 195.4l1.3 2.3h-2.6z"/><path d="M316.6 207.4l1.3 2.3h-2.6z"/><path d="M316.5 208.9l1.3 2.3h-2.6z"/><path d="M319.3 194.1l1.3 2.3h-2.6z"/><path d="M315.1 208.3l1.3 2.3h-2.6z"/><path d="M320.5 202.9l1.3 2.3h-2.6z"/><path d="M318.7 204.8l1.3 2.3h-2.6z"/><path d="M320.5 196.1l1.3 2.3h-2.6z"/><path d="M321.8 191.9l1.3 2.3h-2.6z"/><path d="M326.4 197.7l1.3 2.3h-2.6z"/><path d="M326.7 195.5l1.3 2.3h-2.6z"/><path d="M319.0 195.1l1.3 2.3h-2.6z"/><path d="M319.9 193.4l1.3 2.3h-2.6z"/><path d="M317.9 200.8l1.3 2.3h-2.6z"/><path d="M319.9 204.8l1.3 2.3h-2.6z"/><path d="M323.6 197.9l1.3 2.3h-2.6z"/><path d="M313.9 209.5l1.3 2.3h-2.6z"/><path d="M315.3 209.6l1.3 2.3h-2.6z"/><path d="M323.2 189.1l1.3 2.3h-2.6z"/><path d="M323.5 195.0l1.3 2.3h-2.6z"/><path d="M316.8 208.2l1.3 2.3h-2.6z"/><path d="M315.7 211.1l1.3 2.3h-2.6z"/><path d="M316.2 206.1l1.3 2.3h-2.6z"/><path d="M321.5 207.4l1.3 2.3h-2.6z"/><path d="M321.9 195.4l1.3 2.3h-2.6z"/><path d="M320.9 190.2l1.3 2.3h-2.6z"/><path d="M320.5 192.4l1.3 2.3h-2.6z"/><path d="M320.9 201.3l1.3 2.3h-2.6z"/><path d="M320.5 202.9l1.3 2.3h-2.6z"/><path d="M319.0 199.3l1.3 2.3h-2.6z"/><path d="M328.4 190.6l1.3 2.3h-2.6z"/><path d="M323.2 204.7l1.3 2.3h-2.6z"/><path d="M321.2 200.9l1.3 2.3h-2.6z"/><path d="M327.4 189.6l1.3 2.3h-2.6z"/><path d="M318.9 200.7l1.3 2.3h-2.6z"/><path d="M316.4 199.7l1.3 2.3h-2.6z"/><path d="M319.8 202.7l1.3 2.3h-2.6z"/><path d="M326.3 196.1l1.3 2.3h-2.6z"/><path d="M321.1 195.6l1.3 2.3h-2.6z"/><path d="M318.3 196.7l1.3 2.3h-2.6z"/><path d="M317.8 203.5l1.3 2.3h-2.6z"/><path d="M322.9 204.5l1.3 2.3h-2.6z"/><path d="M323.9 194.1l1.3 2.3h-2.6z"/><path d="M323.7 200.2l1.3 2.3h-2.6z"/><path d="M325.3 191.3l1.3 2.3h-2.6z"/><path d="M323.5 198.0l1.3 2.3h-2.6z"/><path d="M322.0 195.2l1.3 2.3h-2.6z"/><path d="M317.9 199.3l1.3 2.3h-2.6z"/><path d="M318.1 199.6l1.3 2.3h-2.6z"/><path d="M323.4 194.1l1.3 2.3h-2.6z"/><path d="M315.0 213.0l1.3 2.3h-2.6z"/><path d="M314.4 210.6l1.3 2.3h-2.6z"/><path d="M324.6 194.8l1.3 2.3h-2.6z"/><path d="M324.8 193.5l1.3 2.3h-2.6z"/><path d="M324.7 190.9l1.3 2.3h-2.6z"/><path d="M324.5 189.0l1.3 2.3h-2.6z"/><path d="M326.1 190.8l1.3 2.3h-2.6z"/><path d="M318.0 207.1l1.3 2.3h-2.6z"/><path d="M315.7 210.4l1.3 2.3h-2.6z"/><path d="M320.8 190.3l1.3 2.3h-2.6z"/><path d="M318.9 203.2l1.3 2.3h-2.6z"/><path d="M320.1 205.7l1.3 2.3h-2.6z"/><path d="M300.8 157.6l2 3.5h-4z"/><path d="M302.1 158.2l2 3.5h-4z"/><path d="M310.2 153.8l2 3.5h-4z"/><path d="M312.1 152.6l2 3.5h-4z"/><path d="M301.5 158.7l2 3.5h-4z"/><path d="M311.5 165.6l2 3.5h-4z"/><path d="M259.8 200.0l2 3.5h-4z"/></g>
</svg>
</body></html>
